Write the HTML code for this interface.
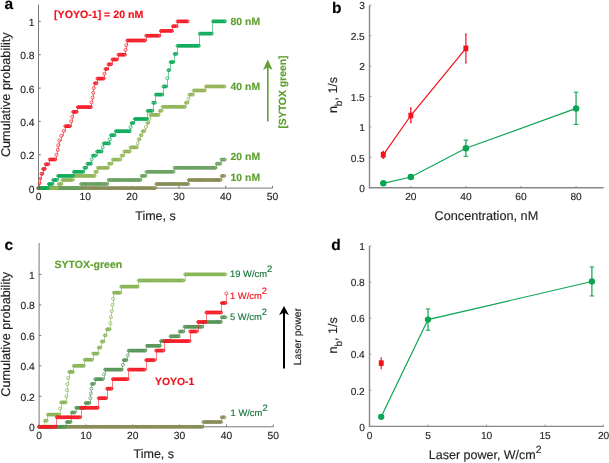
<!DOCTYPE html>
<html lang="en">
<head>
<meta charset="utf-8">
<title>Figure: cumulative probability and binding rates</title>
<style>
html,body{margin:0;padding:0;background:#fff;}
body{width:609px;height:463px;overflow:hidden;font-family:"Liberation Sans", Arial, Helvetica, sans-serif;}
svg{display:block;}
svg text{stroke-width:0.15px;paint-order:stroke fill;text-rendering:geometricPrecision;}
</style>
</head>
<body>
<svg width="609" height="463" viewBox="0 0 609 463" font-family='"Liberation Sans", Arial, Helvetica, sans-serif'>
<rect width="609" height="463" fill="#fff"/>
<g id="panel-a">
<line x1="38.05" y1="188.10" x2="272.50" y2="188.10" stroke="#6a6a6a" stroke-width="0.9"/>
<line x1="38.50" y1="188.10" x2="38.50" y2="4.60" stroke="#6a6a6a" stroke-width="0.9"/>
<line x1="38.50" y1="188.10" x2="38.50" y2="185.80" stroke="#6a6a6a" stroke-width="0.9"/>
<text x="38.5" y="200.1" font-size="10.3" text-anchor="middle" fill="#231f20" stroke="#231f20">0</text>
<line x1="85.30" y1="188.10" x2="85.30" y2="185.80" stroke="#6a6a6a" stroke-width="0.9"/>
<text x="85.3" y="200.1" font-size="10.3" text-anchor="middle" fill="#231f20" stroke="#231f20">10</text>
<line x1="132.10" y1="188.10" x2="132.10" y2="185.80" stroke="#6a6a6a" stroke-width="0.9"/>
<text x="132.1" y="200.1" font-size="10.3" text-anchor="middle" fill="#231f20" stroke="#231f20">20</text>
<line x1="178.90" y1="188.10" x2="178.90" y2="185.80" stroke="#6a6a6a" stroke-width="0.9"/>
<text x="178.9" y="200.1" font-size="10.3" text-anchor="middle" fill="#231f20" stroke="#231f20">30</text>
<line x1="225.70" y1="188.10" x2="225.70" y2="185.80" stroke="#6a6a6a" stroke-width="0.9"/>
<text x="225.7" y="200.1" font-size="10.3" text-anchor="middle" fill="#231f20" stroke="#231f20">40</text>
<line x1="272.50" y1="188.10" x2="272.50" y2="185.80" stroke="#6a6a6a" stroke-width="0.9"/>
<text x="272.5" y="200.1" font-size="10.3" text-anchor="middle" fill="#231f20" stroke="#231f20">50</text>
<line x1="38.50" y1="188.10" x2="40.80" y2="188.10" stroke="#6a6a6a" stroke-width="0.9"/>
<text x="34.5" y="192.6" font-size="10.3" text-anchor="end" fill="#231f20" stroke="#231f20">0</text>
<line x1="38.50" y1="154.76" x2="40.80" y2="154.76" stroke="#6a6a6a" stroke-width="0.9"/>
<text x="34.5" y="159.3" font-size="10.3" text-anchor="end" fill="#231f20" stroke="#231f20">0.2</text>
<line x1="38.50" y1="121.42" x2="40.80" y2="121.42" stroke="#6a6a6a" stroke-width="0.9"/>
<text x="34.5" y="125.9" font-size="10.3" text-anchor="end" fill="#231f20" stroke="#231f20">0.4</text>
<line x1="38.50" y1="88.08" x2="40.80" y2="88.08" stroke="#6a6a6a" stroke-width="0.9"/>
<text x="34.5" y="92.6" font-size="10.3" text-anchor="end" fill="#231f20" stroke="#231f20">0.6</text>
<line x1="38.50" y1="54.74" x2="40.80" y2="54.74" stroke="#6a6a6a" stroke-width="0.9"/>
<text x="34.5" y="59.2" font-size="10.3" text-anchor="end" fill="#231f20" stroke="#231f20">0.8</text>
<line x1="38.50" y1="21.40" x2="40.80" y2="21.40" stroke="#6a6a6a" stroke-width="0.9"/>
<text x="34.5" y="25.9" font-size="10.3" text-anchor="end" fill="#231f20" stroke="#231f20">1</text>
<g stroke="#82864f" fill="none">
<path d="M38.5 188.1H155.1H156.5V184.0H188.2H188.5V180.0H220.7H221.5V175.9H224.4" stroke-width="0.55"/>
<g stroke-width="0.85" fill="#fff" fill-opacity="0.1"><circle cx="38.5" cy="188.1" r="1.36"/><circle cx="39.4" cy="188.1" r="1.36"/><circle cx="40.4" cy="188.1" r="1.36"/><circle cx="41.3" cy="188.1" r="1.36"/><circle cx="42.3" cy="188.1" r="1.36"/><circle cx="43.2" cy="188.1" r="1.36"/><circle cx="44.1" cy="188.1" r="1.36"/><circle cx="45.1" cy="188.1" r="1.36"/><circle cx="46.0" cy="188.1" r="1.36"/><circle cx="47.0" cy="188.1" r="1.36"/><circle cx="47.9" cy="188.1" r="1.36"/><circle cx="48.8" cy="188.1" r="1.36"/><circle cx="49.8" cy="188.1" r="1.36"/><circle cx="50.7" cy="188.1" r="1.36"/><circle cx="51.7" cy="188.1" r="1.36"/><circle cx="52.6" cy="188.1" r="1.36"/><circle cx="53.5" cy="188.1" r="1.36"/><circle cx="54.5" cy="188.1" r="1.36"/><circle cx="55.4" cy="188.1" r="1.36"/><circle cx="56.4" cy="188.1" r="1.36"/><circle cx="57.3" cy="188.1" r="1.36"/><circle cx="58.2" cy="188.1" r="1.36"/><circle cx="59.2" cy="188.1" r="1.36"/><circle cx="60.1" cy="188.1" r="1.36"/><circle cx="61.1" cy="188.1" r="1.36"/><circle cx="62.0" cy="188.1" r="1.36"/><circle cx="62.9" cy="188.1" r="1.36"/><circle cx="63.9" cy="188.1" r="1.36"/><circle cx="64.8" cy="188.1" r="1.36"/><circle cx="65.8" cy="188.1" r="1.36"/><circle cx="66.7" cy="188.1" r="1.36"/><circle cx="67.6" cy="188.1" r="1.36"/><circle cx="68.6" cy="188.1" r="1.36"/><circle cx="69.5" cy="188.1" r="1.36"/><circle cx="70.5" cy="188.1" r="1.36"/><circle cx="71.4" cy="188.1" r="1.36"/><circle cx="72.3" cy="188.1" r="1.36"/><circle cx="73.3" cy="188.1" r="1.36"/><circle cx="74.2" cy="188.1" r="1.36"/><circle cx="75.2" cy="188.1" r="1.36"/><circle cx="76.1" cy="188.1" r="1.36"/><circle cx="77.0" cy="188.1" r="1.36"/><circle cx="78.0" cy="188.1" r="1.36"/><circle cx="78.9" cy="188.1" r="1.36"/><circle cx="79.9" cy="188.1" r="1.36"/><circle cx="80.8" cy="188.1" r="1.36"/><circle cx="81.7" cy="188.1" r="1.36"/><circle cx="82.7" cy="188.1" r="1.36"/><circle cx="83.6" cy="188.1" r="1.36"/><circle cx="84.6" cy="188.1" r="1.36"/><circle cx="85.5" cy="188.1" r="1.36"/><circle cx="86.4" cy="188.1" r="1.36"/><circle cx="87.4" cy="188.1" r="1.36"/><circle cx="88.3" cy="188.1" r="1.36"/><circle cx="89.3" cy="188.1" r="1.36"/><circle cx="90.2" cy="188.1" r="1.36"/><circle cx="91.1" cy="188.1" r="1.36"/><circle cx="92.1" cy="188.1" r="1.36"/><circle cx="93.0" cy="188.1" r="1.36"/><circle cx="94.0" cy="188.1" r="1.36"/><circle cx="94.9" cy="188.1" r="1.36"/><circle cx="95.8" cy="188.1" r="1.36"/><circle cx="96.8" cy="188.1" r="1.36"/><circle cx="97.7" cy="188.1" r="1.36"/><circle cx="98.7" cy="188.1" r="1.36"/><circle cx="99.6" cy="188.1" r="1.36"/><circle cx="100.5" cy="188.1" r="1.36"/><circle cx="101.5" cy="188.1" r="1.36"/><circle cx="102.4" cy="188.1" r="1.36"/><circle cx="103.4" cy="188.1" r="1.36"/><circle cx="104.3" cy="188.1" r="1.36"/><circle cx="105.2" cy="188.1" r="1.36"/><circle cx="106.2" cy="188.1" r="1.36"/><circle cx="107.1" cy="188.1" r="1.36"/><circle cx="108.1" cy="188.1" r="1.36"/><circle cx="109.0" cy="188.1" r="1.36"/><circle cx="109.9" cy="188.1" r="1.36"/><circle cx="110.9" cy="188.1" r="1.36"/><circle cx="111.8" cy="188.1" r="1.36"/><circle cx="112.8" cy="188.1" r="1.36"/><circle cx="113.7" cy="188.1" r="1.36"/><circle cx="114.6" cy="188.1" r="1.36"/><circle cx="115.6" cy="188.1" r="1.36"/><circle cx="116.5" cy="188.1" r="1.36"/><circle cx="117.5" cy="188.1" r="1.36"/><circle cx="118.4" cy="188.1" r="1.36"/><circle cx="119.3" cy="188.1" r="1.36"/><circle cx="120.3" cy="188.1" r="1.36"/><circle cx="121.2" cy="188.1" r="1.36"/><circle cx="122.2" cy="188.1" r="1.36"/><circle cx="123.1" cy="188.1" r="1.36"/><circle cx="124.0" cy="188.1" r="1.36"/><circle cx="125.0" cy="188.1" r="1.36"/><circle cx="125.9" cy="188.1" r="1.36"/><circle cx="126.9" cy="188.1" r="1.36"/><circle cx="127.8" cy="188.1" r="1.36"/><circle cx="128.7" cy="188.1" r="1.36"/><circle cx="129.7" cy="188.1" r="1.36"/><circle cx="130.6" cy="188.1" r="1.36"/><circle cx="131.6" cy="188.1" r="1.36"/><circle cx="132.5" cy="188.1" r="1.36"/><circle cx="133.4" cy="188.1" r="1.36"/><circle cx="134.4" cy="188.1" r="1.36"/><circle cx="135.3" cy="188.1" r="1.36"/><circle cx="136.3" cy="188.1" r="1.36"/><circle cx="137.2" cy="188.1" r="1.36"/><circle cx="138.1" cy="188.1" r="1.36"/><circle cx="139.1" cy="188.1" r="1.36"/><circle cx="140.0" cy="188.1" r="1.36"/><circle cx="141.0" cy="188.1" r="1.36"/><circle cx="141.9" cy="188.1" r="1.36"/><circle cx="142.8" cy="188.1" r="1.36"/><circle cx="143.8" cy="188.1" r="1.36"/><circle cx="144.7" cy="188.1" r="1.36"/><circle cx="145.7" cy="188.1" r="1.36"/><circle cx="146.6" cy="188.1" r="1.36"/><circle cx="147.5" cy="188.1" r="1.36"/><circle cx="148.5" cy="188.1" r="1.36"/><circle cx="149.4" cy="188.1" r="1.36"/><circle cx="150.4" cy="188.1" r="1.36"/><circle cx="151.3" cy="188.1" r="1.36"/><circle cx="152.2" cy="188.1" r="1.36"/><circle cx="153.2" cy="188.1" r="1.36"/><circle cx="154.1" cy="188.1" r="1.36"/><circle cx="155.1" cy="188.1" r="1.36"/><circle cx="156.2" cy="184.0" r="1.36"/><circle cx="157.1" cy="184.0" r="1.36"/><circle cx="158.1" cy="184.0" r="1.36"/><circle cx="159.0" cy="184.0" r="1.36"/><circle cx="160.0" cy="184.0" r="1.36"/><circle cx="160.9" cy="184.0" r="1.36"/><circle cx="161.8" cy="184.0" r="1.36"/><circle cx="162.8" cy="184.0" r="1.36"/><circle cx="163.7" cy="184.0" r="1.36"/><circle cx="164.7" cy="184.0" r="1.36"/><circle cx="165.6" cy="184.0" r="1.36"/><circle cx="166.5" cy="184.0" r="1.36"/><circle cx="167.5" cy="184.0" r="1.36"/><circle cx="168.4" cy="184.0" r="1.36"/><circle cx="169.4" cy="184.0" r="1.36"/><circle cx="170.3" cy="184.0" r="1.36"/><circle cx="171.2" cy="184.0" r="1.36"/><circle cx="172.2" cy="184.0" r="1.36"/><circle cx="173.1" cy="184.0" r="1.36"/><circle cx="174.1" cy="184.0" r="1.36"/><circle cx="175.0" cy="184.0" r="1.36"/><circle cx="175.9" cy="184.0" r="1.36"/><circle cx="176.9" cy="184.0" r="1.36"/><circle cx="177.8" cy="184.0" r="1.36"/><circle cx="178.8" cy="184.0" r="1.36"/><circle cx="179.7" cy="184.0" r="1.36"/><circle cx="180.6" cy="184.0" r="1.36"/><circle cx="181.6" cy="184.0" r="1.36"/><circle cx="182.5" cy="184.0" r="1.36"/><circle cx="183.5" cy="184.0" r="1.36"/><circle cx="184.4" cy="184.0" r="1.36"/><circle cx="185.3" cy="184.0" r="1.36"/><circle cx="186.3" cy="184.0" r="1.36"/><circle cx="187.2" cy="184.0" r="1.36"/><circle cx="188.2" cy="184.0" r="1.36"/><circle cx="188.7" cy="180.0" r="1.36"/><circle cx="189.6" cy="180.0" r="1.36"/><circle cx="190.6" cy="180.0" r="1.36"/><circle cx="191.5" cy="180.0" r="1.36"/><circle cx="192.5" cy="180.0" r="1.36"/><circle cx="193.4" cy="180.0" r="1.36"/><circle cx="194.3" cy="180.0" r="1.36"/><circle cx="195.3" cy="180.0" r="1.36"/><circle cx="196.2" cy="180.0" r="1.36"/><circle cx="197.2" cy="180.0" r="1.36"/><circle cx="198.1" cy="180.0" r="1.36"/><circle cx="199.0" cy="180.0" r="1.36"/><circle cx="200.0" cy="180.0" r="1.36"/><circle cx="200.9" cy="180.0" r="1.36"/><circle cx="201.9" cy="180.0" r="1.36"/><circle cx="202.8" cy="180.0" r="1.36"/><circle cx="203.7" cy="180.0" r="1.36"/><circle cx="204.7" cy="180.0" r="1.36"/><circle cx="205.6" cy="180.0" r="1.36"/><circle cx="206.6" cy="180.0" r="1.36"/><circle cx="207.5" cy="180.0" r="1.36"/><circle cx="208.4" cy="180.0" r="1.36"/><circle cx="209.4" cy="180.0" r="1.36"/><circle cx="210.3" cy="180.0" r="1.36"/><circle cx="211.3" cy="180.0" r="1.36"/><circle cx="212.2" cy="180.0" r="1.36"/><circle cx="213.1" cy="180.0" r="1.36"/><circle cx="214.1" cy="180.0" r="1.36"/><circle cx="215.0" cy="180.0" r="1.36"/><circle cx="216.0" cy="180.0" r="1.36"/><circle cx="216.9" cy="180.0" r="1.36"/><circle cx="217.8" cy="180.0" r="1.36"/><circle cx="218.8" cy="180.0" r="1.36"/><circle cx="219.7" cy="180.0" r="1.36"/><circle cx="220.7" cy="180.0" r="1.36"/><circle cx="221.6" cy="175.9" r="1.36"/><circle cx="222.5" cy="175.9" r="1.36"/><circle cx="223.5" cy="175.9" r="1.36"/><circle cx="224.4" cy="175.9" r="1.36"/></g>
</g>
<g stroke="#639c58" fill="none">
<path d="M38.5 188.1H79.9H81.5V184.0H107.3H108.5V180.0H140.5H141.5V175.9H145.5H146.5V171.8H173.6H174.5V167.8H215.8H216.5V163.7H220.4H221.5V159.6H225.1" stroke-width="0.55"/>
<g stroke-width="0.85" fill="#fff" fill-opacity="0.1"><circle cx="38.5" cy="188.1" r="1.36"/><circle cx="39.4" cy="188.1" r="1.36"/><circle cx="40.4" cy="188.1" r="1.36"/><circle cx="41.3" cy="188.1" r="1.36"/><circle cx="42.3" cy="188.1" r="1.36"/><circle cx="43.2" cy="188.1" r="1.36"/><circle cx="44.1" cy="188.1" r="1.36"/><circle cx="45.1" cy="188.1" r="1.36"/><circle cx="46.0" cy="188.1" r="1.36"/><circle cx="47.0" cy="188.1" r="1.36"/><circle cx="47.9" cy="188.1" r="1.36"/><circle cx="48.8" cy="188.1" r="1.36"/><circle cx="49.8" cy="188.1" r="1.36"/><circle cx="50.7" cy="188.1" r="1.36"/><circle cx="51.7" cy="188.1" r="1.36"/><circle cx="52.6" cy="188.1" r="1.36"/><circle cx="53.5" cy="188.1" r="1.36"/><circle cx="54.5" cy="188.1" r="1.36"/><circle cx="55.4" cy="188.1" r="1.36"/><circle cx="56.4" cy="188.1" r="1.36"/><circle cx="57.3" cy="188.1" r="1.36"/><circle cx="58.2" cy="188.1" r="1.36"/><circle cx="59.2" cy="188.1" r="1.36"/><circle cx="60.1" cy="188.1" r="1.36"/><circle cx="61.1" cy="188.1" r="1.36"/><circle cx="62.0" cy="188.1" r="1.36"/><circle cx="62.9" cy="188.1" r="1.36"/><circle cx="63.9" cy="188.1" r="1.36"/><circle cx="64.8" cy="188.1" r="1.36"/><circle cx="65.8" cy="188.1" r="1.36"/><circle cx="66.7" cy="188.1" r="1.36"/><circle cx="67.6" cy="188.1" r="1.36"/><circle cx="68.6" cy="188.1" r="1.36"/><circle cx="69.5" cy="188.1" r="1.36"/><circle cx="70.5" cy="188.1" r="1.36"/><circle cx="71.4" cy="188.1" r="1.36"/><circle cx="72.3" cy="188.1" r="1.36"/><circle cx="73.3" cy="188.1" r="1.36"/><circle cx="74.2" cy="188.1" r="1.36"/><circle cx="75.2" cy="188.1" r="1.36"/><circle cx="76.1" cy="188.1" r="1.36"/><circle cx="77.0" cy="188.1" r="1.36"/><circle cx="78.0" cy="188.1" r="1.36"/><circle cx="78.9" cy="188.1" r="1.36"/><circle cx="79.9" cy="188.1" r="1.36"/><circle cx="81.0" cy="184.0" r="1.36"/><circle cx="81.9" cy="184.0" r="1.36"/><circle cx="82.9" cy="184.0" r="1.36"/><circle cx="83.8" cy="184.0" r="1.36"/><circle cx="84.8" cy="184.0" r="1.36"/><circle cx="85.7" cy="184.0" r="1.36"/><circle cx="86.6" cy="184.0" r="1.36"/><circle cx="87.6" cy="184.0" r="1.36"/><circle cx="88.5" cy="184.0" r="1.36"/><circle cx="89.5" cy="184.0" r="1.36"/><circle cx="90.4" cy="184.0" r="1.36"/><circle cx="91.3" cy="184.0" r="1.36"/><circle cx="92.3" cy="184.0" r="1.36"/><circle cx="93.2" cy="184.0" r="1.36"/><circle cx="94.2" cy="184.0" r="1.36"/><circle cx="95.1" cy="184.0" r="1.36"/><circle cx="96.0" cy="184.0" r="1.36"/><circle cx="97.0" cy="184.0" r="1.36"/><circle cx="97.9" cy="184.0" r="1.36"/><circle cx="98.9" cy="184.0" r="1.36"/><circle cx="99.8" cy="184.0" r="1.36"/><circle cx="100.7" cy="184.0" r="1.36"/><circle cx="101.7" cy="184.0" r="1.36"/><circle cx="102.6" cy="184.0" r="1.36"/><circle cx="103.6" cy="184.0" r="1.36"/><circle cx="104.5" cy="184.0" r="1.36"/><circle cx="105.4" cy="184.0" r="1.36"/><circle cx="106.4" cy="184.0" r="1.36"/><circle cx="107.3" cy="184.0" r="1.36"/><circle cx="108.5" cy="180.0" r="1.36"/><circle cx="109.4" cy="180.0" r="1.36"/><circle cx="110.4" cy="180.0" r="1.36"/><circle cx="111.3" cy="180.0" r="1.36"/><circle cx="112.3" cy="180.0" r="1.36"/><circle cx="113.2" cy="180.0" r="1.36"/><circle cx="114.1" cy="180.0" r="1.36"/><circle cx="115.1" cy="180.0" r="1.36"/><circle cx="116.0" cy="180.0" r="1.36"/><circle cx="117.0" cy="180.0" r="1.36"/><circle cx="117.9" cy="180.0" r="1.36"/><circle cx="118.8" cy="180.0" r="1.36"/><circle cx="119.8" cy="180.0" r="1.36"/><circle cx="120.7" cy="180.0" r="1.36"/><circle cx="121.7" cy="180.0" r="1.36"/><circle cx="122.6" cy="180.0" r="1.36"/><circle cx="123.5" cy="180.0" r="1.36"/><circle cx="124.5" cy="180.0" r="1.36"/><circle cx="125.4" cy="180.0" r="1.36"/><circle cx="126.4" cy="180.0" r="1.36"/><circle cx="127.3" cy="180.0" r="1.36"/><circle cx="128.2" cy="180.0" r="1.36"/><circle cx="129.2" cy="180.0" r="1.36"/><circle cx="130.1" cy="180.0" r="1.36"/><circle cx="131.1" cy="180.0" r="1.36"/><circle cx="132.0" cy="180.0" r="1.36"/><circle cx="132.9" cy="180.0" r="1.36"/><circle cx="133.9" cy="180.0" r="1.36"/><circle cx="134.8" cy="180.0" r="1.36"/><circle cx="135.8" cy="180.0" r="1.36"/><circle cx="136.7" cy="180.0" r="1.36"/><circle cx="137.6" cy="180.0" r="1.36"/><circle cx="138.6" cy="180.0" r="1.36"/><circle cx="139.5" cy="180.0" r="1.36"/><circle cx="140.5" cy="180.0" r="1.36"/><circle cx="141.7" cy="175.9" r="1.36"/><circle cx="142.6" cy="175.9" r="1.36"/><circle cx="143.6" cy="175.9" r="1.36"/><circle cx="144.5" cy="175.9" r="1.36"/><circle cx="145.5" cy="175.9" r="1.36"/><circle cx="146.3" cy="171.8" r="1.36"/><circle cx="147.2" cy="171.8" r="1.36"/><circle cx="148.2" cy="171.8" r="1.36"/><circle cx="149.1" cy="171.8" r="1.36"/><circle cx="150.1" cy="171.8" r="1.36"/><circle cx="151.0" cy="171.8" r="1.36"/><circle cx="151.9" cy="171.8" r="1.36"/><circle cx="152.9" cy="171.8" r="1.36"/><circle cx="153.8" cy="171.8" r="1.36"/><circle cx="154.8" cy="171.8" r="1.36"/><circle cx="155.7" cy="171.8" r="1.36"/><circle cx="156.6" cy="171.8" r="1.36"/><circle cx="157.6" cy="171.8" r="1.36"/><circle cx="158.5" cy="171.8" r="1.36"/><circle cx="159.5" cy="171.8" r="1.36"/><circle cx="160.4" cy="171.8" r="1.36"/><circle cx="161.3" cy="171.8" r="1.36"/><circle cx="162.3" cy="171.8" r="1.36"/><circle cx="163.2" cy="171.8" r="1.36"/><circle cx="164.2" cy="171.8" r="1.36"/><circle cx="165.1" cy="171.8" r="1.36"/><circle cx="166.0" cy="171.8" r="1.36"/><circle cx="167.0" cy="171.8" r="1.36"/><circle cx="167.9" cy="171.8" r="1.36"/><circle cx="168.9" cy="171.8" r="1.36"/><circle cx="169.8" cy="171.8" r="1.36"/><circle cx="170.7" cy="171.8" r="1.36"/><circle cx="171.7" cy="171.8" r="1.36"/><circle cx="172.6" cy="171.8" r="1.36"/><circle cx="173.6" cy="171.8" r="1.36"/><circle cx="174.4" cy="167.8" r="1.36"/><circle cx="175.3" cy="167.8" r="1.36"/><circle cx="176.3" cy="167.8" r="1.36"/><circle cx="177.2" cy="167.8" r="1.36"/><circle cx="178.2" cy="167.8" r="1.36"/><circle cx="179.1" cy="167.8" r="1.36"/><circle cx="180.0" cy="167.8" r="1.36"/><circle cx="181.0" cy="167.8" r="1.36"/><circle cx="181.9" cy="167.8" r="1.36"/><circle cx="182.9" cy="167.8" r="1.36"/><circle cx="183.8" cy="167.8" r="1.36"/><circle cx="184.7" cy="167.8" r="1.36"/><circle cx="185.7" cy="167.8" r="1.36"/><circle cx="186.6" cy="167.8" r="1.36"/><circle cx="187.6" cy="167.8" r="1.36"/><circle cx="188.5" cy="167.8" r="1.36"/><circle cx="189.4" cy="167.8" r="1.36"/><circle cx="190.4" cy="167.8" r="1.36"/><circle cx="191.3" cy="167.8" r="1.36"/><circle cx="192.3" cy="167.8" r="1.36"/><circle cx="193.2" cy="167.8" r="1.36"/><circle cx="194.1" cy="167.8" r="1.36"/><circle cx="195.1" cy="167.8" r="1.36"/><circle cx="196.0" cy="167.8" r="1.36"/><circle cx="197.0" cy="167.8" r="1.36"/><circle cx="197.9" cy="167.8" r="1.36"/><circle cx="198.8" cy="167.8" r="1.36"/><circle cx="199.8" cy="167.8" r="1.36"/><circle cx="200.7" cy="167.8" r="1.36"/><circle cx="201.7" cy="167.8" r="1.36"/><circle cx="202.6" cy="167.8" r="1.36"/><circle cx="203.5" cy="167.8" r="1.36"/><circle cx="204.5" cy="167.8" r="1.36"/><circle cx="205.4" cy="167.8" r="1.36"/><circle cx="206.4" cy="167.8" r="1.36"/><circle cx="207.3" cy="167.8" r="1.36"/><circle cx="208.2" cy="167.8" r="1.36"/><circle cx="209.2" cy="167.8" r="1.36"/><circle cx="210.1" cy="167.8" r="1.36"/><circle cx="211.1" cy="167.8" r="1.36"/><circle cx="212.0" cy="167.8" r="1.36"/><circle cx="212.9" cy="167.8" r="1.36"/><circle cx="213.9" cy="167.8" r="1.36"/><circle cx="214.8" cy="167.8" r="1.36"/><circle cx="215.8" cy="167.8" r="1.36"/><circle cx="216.6" cy="163.7" r="1.36"/><circle cx="217.5" cy="163.7" r="1.36"/><circle cx="218.5" cy="163.7" r="1.36"/><circle cx="219.4" cy="163.7" r="1.36"/><circle cx="220.4" cy="163.7" r="1.36"/><circle cx="221.3" cy="159.6" r="1.36"/><circle cx="222.2" cy="159.6" r="1.36"/><circle cx="223.2" cy="159.6" r="1.36"/><circle cx="224.1" cy="159.6" r="1.36"/><circle cx="225.1" cy="159.6" r="1.36"/></g>
</g>
<g stroke="#8cb04e" fill="none">
<path d="M38.5 188.1H57.3H58.5V184.0H61.5H62.5V180.0H72.6H74.5V175.9H94.7H95.5V171.8H97.1H97.5V167.8H108.1H108.5V163.7H111.7H112.5V159.6H120.3H121.5V155.6H123.3H124.5V151.5H129.8H130.5V147.4H137.1H137.5V143.4H137.8H138.5V139.3H139.6H140.5V135.2H141.7H142.5V131.2H144.5H145.5V127.1H145.8H147.5V123.0H148.2H149.5V119.0H149.4H150.5V114.9H158.8H159.5V110.8H161.7H162.5V106.8H185.1H185.5V102.7H187.7H188.5V98.7H188.4H189.5V94.6H193.1H193.5V90.5H205.0H205.5V86.5H224.7" stroke-width="0.55"/>
<g stroke-width="0.85" fill="#fff" fill-opacity="0.1"><circle cx="38.5" cy="188.1" r="1.36"/><circle cx="39.4" cy="188.1" r="1.36"/><circle cx="40.4" cy="188.1" r="1.36"/><circle cx="41.3" cy="188.1" r="1.36"/><circle cx="42.3" cy="188.1" r="1.36"/><circle cx="43.2" cy="188.1" r="1.36"/><circle cx="44.1" cy="188.1" r="1.36"/><circle cx="45.1" cy="188.1" r="1.36"/><circle cx="46.0" cy="188.1" r="1.36"/><circle cx="47.0" cy="188.1" r="1.36"/><circle cx="47.9" cy="188.1" r="1.36"/><circle cx="48.8" cy="188.1" r="1.36"/><circle cx="49.8" cy="188.1" r="1.36"/><circle cx="50.7" cy="188.1" r="1.36"/><circle cx="51.7" cy="188.1" r="1.36"/><circle cx="52.6" cy="188.1" r="1.36"/><circle cx="53.5" cy="188.1" r="1.36"/><circle cx="54.5" cy="188.1" r="1.36"/><circle cx="55.4" cy="188.1" r="1.36"/><circle cx="56.4" cy="188.1" r="1.36"/><circle cx="57.3" cy="188.1" r="1.36"/><circle cx="58.7" cy="184.0" r="1.36"/><circle cx="59.6" cy="184.0" r="1.36"/><circle cx="60.6" cy="184.0" r="1.36"/><circle cx="61.5" cy="184.0" r="1.36"/><circle cx="62.3" cy="180.0" r="1.36"/><circle cx="63.2" cy="180.0" r="1.36"/><circle cx="64.2" cy="180.0" r="1.36"/><circle cx="65.1" cy="180.0" r="1.36"/><circle cx="66.1" cy="180.0" r="1.36"/><circle cx="67.0" cy="180.0" r="1.36"/><circle cx="67.9" cy="180.0" r="1.36"/><circle cx="68.9" cy="180.0" r="1.36"/><circle cx="69.8" cy="180.0" r="1.36"/><circle cx="70.8" cy="180.0" r="1.36"/><circle cx="71.7" cy="180.0" r="1.36"/><circle cx="72.6" cy="180.0" r="1.36"/><circle cx="74.0" cy="175.9" r="1.36"/><circle cx="74.9" cy="175.9" r="1.36"/><circle cx="75.9" cy="175.9" r="1.36"/><circle cx="76.8" cy="175.9" r="1.36"/><circle cx="77.8" cy="175.9" r="1.36"/><circle cx="78.7" cy="175.9" r="1.36"/><circle cx="79.6" cy="175.9" r="1.36"/><circle cx="80.6" cy="175.9" r="1.36"/><circle cx="81.5" cy="175.9" r="1.36"/><circle cx="82.5" cy="175.9" r="1.36"/><circle cx="83.4" cy="175.9" r="1.36"/><circle cx="84.3" cy="175.9" r="1.36"/><circle cx="85.3" cy="175.9" r="1.36"/><circle cx="86.2" cy="175.9" r="1.36"/><circle cx="87.2" cy="175.9" r="1.36"/><circle cx="88.1" cy="175.9" r="1.36"/><circle cx="89.0" cy="175.9" r="1.36"/><circle cx="90.0" cy="175.9" r="1.36"/><circle cx="90.9" cy="175.9" r="1.36"/><circle cx="91.9" cy="175.9" r="1.36"/><circle cx="92.8" cy="175.9" r="1.36"/><circle cx="93.7" cy="175.9" r="1.36"/><circle cx="94.7" cy="175.9" r="1.36"/><circle cx="95.2" cy="171.8" r="1.36"/><circle cx="96.1" cy="171.8" r="1.36"/><circle cx="97.1" cy="171.8" r="1.36"/><circle cx="97.8" cy="167.8" r="1.36"/><circle cx="98.7" cy="167.8" r="1.36"/><circle cx="99.7" cy="167.8" r="1.36"/><circle cx="100.6" cy="167.8" r="1.36"/><circle cx="101.6" cy="167.8" r="1.36"/><circle cx="102.5" cy="167.8" r="1.36"/><circle cx="103.4" cy="167.8" r="1.36"/><circle cx="104.4" cy="167.8" r="1.36"/><circle cx="105.3" cy="167.8" r="1.36"/><circle cx="106.3" cy="167.8" r="1.36"/><circle cx="107.2" cy="167.8" r="1.36"/><circle cx="108.1" cy="167.8" r="1.36"/><circle cx="108.9" cy="163.7" r="1.36"/><circle cx="109.8" cy="163.7" r="1.36"/><circle cx="110.8" cy="163.7" r="1.36"/><circle cx="111.7" cy="163.7" r="1.36"/><circle cx="112.8" cy="159.6" r="1.36"/><circle cx="113.7" cy="159.6" r="1.36"/><circle cx="114.7" cy="159.6" r="1.36"/><circle cx="115.6" cy="159.6" r="1.36"/><circle cx="116.6" cy="159.6" r="1.36"/><circle cx="117.5" cy="159.6" r="1.36"/><circle cx="118.4" cy="159.6" r="1.36"/><circle cx="119.4" cy="159.6" r="1.36"/><circle cx="120.3" cy="159.6" r="1.36"/><circle cx="121.4" cy="155.6" r="1.36"/><circle cx="122.3" cy="155.6" r="1.36"/><circle cx="123.3" cy="155.6" r="1.36"/><circle cx="124.2" cy="151.5" r="1.36"/><circle cx="125.1" cy="151.5" r="1.36"/><circle cx="126.1" cy="151.5" r="1.36"/><circle cx="127.0" cy="151.5" r="1.36"/><circle cx="128.0" cy="151.5" r="1.36"/><circle cx="128.9" cy="151.5" r="1.36"/><circle cx="129.8" cy="151.5" r="1.36"/><circle cx="130.5" cy="147.4" r="1.36"/><circle cx="131.4" cy="147.4" r="1.36"/><circle cx="132.4" cy="147.4" r="1.36"/><circle cx="133.3" cy="147.4" r="1.36"/><circle cx="134.3" cy="147.4" r="1.36"/><circle cx="135.2" cy="147.4" r="1.36"/><circle cx="136.1" cy="147.4" r="1.36"/><circle cx="137.1" cy="147.4" r="1.36"/><circle cx="138.7" cy="139.3" r="1.36"/><circle cx="139.6" cy="139.3" r="1.36"/><circle cx="140.8" cy="135.2" r="1.36"/><circle cx="141.7" cy="135.2" r="1.36"/><circle cx="142.6" cy="131.2" r="1.36"/><circle cx="143.5" cy="131.2" r="1.36"/><circle cx="144.5" cy="131.2" r="1.36"/><circle cx="147.3" cy="123.0" r="1.36"/><circle cx="148.2" cy="123.0" r="1.36"/><circle cx="150.3" cy="114.9" r="1.36"/><circle cx="151.2" cy="114.9" r="1.36"/><circle cx="152.2" cy="114.9" r="1.36"/><circle cx="153.1" cy="114.9" r="1.36"/><circle cx="154.1" cy="114.9" r="1.36"/><circle cx="155.0" cy="114.9" r="1.36"/><circle cx="155.9" cy="114.9" r="1.36"/><circle cx="156.9" cy="114.9" r="1.36"/><circle cx="157.8" cy="114.9" r="1.36"/><circle cx="158.8" cy="114.9" r="1.36"/><circle cx="159.8" cy="110.8" r="1.36"/><circle cx="160.7" cy="110.8" r="1.36"/><circle cx="161.7" cy="110.8" r="1.36"/><circle cx="162.5" cy="106.8" r="1.36"/><circle cx="163.4" cy="106.8" r="1.36"/><circle cx="164.4" cy="106.8" r="1.36"/><circle cx="165.3" cy="106.8" r="1.36"/><circle cx="166.3" cy="106.8" r="1.36"/><circle cx="167.2" cy="106.8" r="1.36"/><circle cx="168.1" cy="106.8" r="1.36"/><circle cx="169.1" cy="106.8" r="1.36"/><circle cx="170.0" cy="106.8" r="1.36"/><circle cx="171.0" cy="106.8" r="1.36"/><circle cx="171.9" cy="106.8" r="1.36"/><circle cx="172.8" cy="106.8" r="1.36"/><circle cx="173.8" cy="106.8" r="1.36"/><circle cx="174.7" cy="106.8" r="1.36"/><circle cx="175.7" cy="106.8" r="1.36"/><circle cx="176.6" cy="106.8" r="1.36"/><circle cx="177.5" cy="106.8" r="1.36"/><circle cx="178.5" cy="106.8" r="1.36"/><circle cx="179.4" cy="106.8" r="1.36"/><circle cx="180.4" cy="106.8" r="1.36"/><circle cx="181.3" cy="106.8" r="1.36"/><circle cx="182.2" cy="106.8" r="1.36"/><circle cx="183.2" cy="106.8" r="1.36"/><circle cx="184.1" cy="106.8" r="1.36"/><circle cx="185.1" cy="106.8" r="1.36"/><circle cx="185.8" cy="102.7" r="1.36"/><circle cx="186.7" cy="102.7" r="1.36"/><circle cx="187.7" cy="102.7" r="1.36"/><circle cx="189.3" cy="94.6" r="1.36"/><circle cx="190.2" cy="94.6" r="1.36"/><circle cx="191.2" cy="94.6" r="1.36"/><circle cx="192.1" cy="94.6" r="1.36"/><circle cx="193.1" cy="94.6" r="1.36"/><circle cx="193.7" cy="90.5" r="1.36"/><circle cx="194.6" cy="90.5" r="1.36"/><circle cx="195.6" cy="90.5" r="1.36"/><circle cx="196.5" cy="90.5" r="1.36"/><circle cx="197.5" cy="90.5" r="1.36"/><circle cx="198.4" cy="90.5" r="1.36"/><circle cx="199.3" cy="90.5" r="1.36"/><circle cx="200.3" cy="90.5" r="1.36"/><circle cx="201.2" cy="90.5" r="1.36"/><circle cx="202.2" cy="90.5" r="1.36"/><circle cx="203.1" cy="90.5" r="1.36"/><circle cx="204.0" cy="90.5" r="1.36"/><circle cx="205.0" cy="90.5" r="1.36"/><circle cx="205.9" cy="86.5" r="1.36"/><circle cx="206.8" cy="86.5" r="1.36"/><circle cx="207.8" cy="86.5" r="1.36"/><circle cx="208.7" cy="86.5" r="1.36"/><circle cx="209.7" cy="86.5" r="1.36"/><circle cx="210.6" cy="86.5" r="1.36"/><circle cx="211.5" cy="86.5" r="1.36"/><circle cx="212.5" cy="86.5" r="1.36"/><circle cx="213.4" cy="86.5" r="1.36"/><circle cx="214.4" cy="86.5" r="1.36"/><circle cx="215.3" cy="86.5" r="1.36"/><circle cx="216.2" cy="86.5" r="1.36"/><circle cx="217.2" cy="86.5" r="1.36"/><circle cx="218.1" cy="86.5" r="1.36"/><circle cx="219.1" cy="86.5" r="1.36"/><circle cx="220.0" cy="86.5" r="1.36"/><circle cx="220.9" cy="86.5" r="1.36"/><circle cx="221.9" cy="86.5" r="1.36"/><circle cx="222.8" cy="86.5" r="1.36"/><circle cx="223.8" cy="86.5" r="1.36"/><circle cx="224.7" cy="86.5" r="1.36"/></g>
<g stroke-width="0.78" fill="#fff" fill-opacity="0.6" stroke-opacity="0.85"><circle cx="137.8" cy="143.4" r="1.55"/><circle cx="145.8" cy="127.1" r="1.55"/><circle cx="149.4" cy="119.0" r="1.55"/><circle cx="188.4" cy="98.7" r="1.55"/></g>
</g>
<g stroke="#00a651" fill="none">
<path d="M38.5 188.1H47.9H48.5V184.0H52.6H53.5V180.0H56.9H58.5V175.9H73.0H73.5V171.8H83.2H84.5V167.8H86.2H87.5V163.7H91.1H91.5V159.6H91.8H92.5V155.6H95.6H97.5V151.5H101.7H102.5V147.4H102.7H103.5V143.4H109.3H109.5V139.3H109.9H110.5V135.2H114.7H115.5V131.2H129.9H130.5V127.1H130.6H131.5V123.0H133.4H134.5V119.0H147.0H147.5V110.8H152.3H153.5V102.7H155.0H155.5V94.6H162.4H163.5V86.5H166.2H167.5V78.3H167.3H168.5V70.2H169.2H170.5V62.1H173.3H174.5V53.9H176.5H177.5V45.8H199.0H199.5V33.6H211.9H212.5V21.4H225.1" stroke-width="0.55"/>
<g stroke-width="0.85" fill="#fff" fill-opacity="0.1"><circle cx="38.5" cy="188.1" r="1.36"/><circle cx="39.4" cy="188.1" r="1.36"/><circle cx="40.4" cy="188.1" r="1.36"/><circle cx="41.3" cy="188.1" r="1.36"/><circle cx="42.3" cy="188.1" r="1.36"/><circle cx="43.2" cy="188.1" r="1.36"/><circle cx="44.1" cy="188.1" r="1.36"/><circle cx="45.1" cy="188.1" r="1.36"/><circle cx="46.0" cy="188.1" r="1.36"/><circle cx="47.0" cy="188.1" r="1.36"/><circle cx="47.9" cy="188.1" r="1.36"/><circle cx="48.8" cy="184.0" r="1.36"/><circle cx="49.7" cy="184.0" r="1.36"/><circle cx="50.7" cy="184.0" r="1.36"/><circle cx="51.6" cy="184.0" r="1.36"/><circle cx="52.6" cy="184.0" r="1.36"/><circle cx="53.1" cy="180.0" r="1.36"/><circle cx="54.0" cy="180.0" r="1.36"/><circle cx="55.0" cy="180.0" r="1.36"/><circle cx="55.9" cy="180.0" r="1.36"/><circle cx="56.9" cy="180.0" r="1.36"/><circle cx="58.0" cy="175.9" r="1.36"/><circle cx="58.9" cy="175.9" r="1.36"/><circle cx="59.9" cy="175.9" r="1.36"/><circle cx="60.8" cy="175.9" r="1.36"/><circle cx="61.8" cy="175.9" r="1.36"/><circle cx="62.7" cy="175.9" r="1.36"/><circle cx="63.6" cy="175.9" r="1.36"/><circle cx="64.6" cy="175.9" r="1.36"/><circle cx="65.5" cy="175.9" r="1.36"/><circle cx="66.5" cy="175.9" r="1.36"/><circle cx="67.4" cy="175.9" r="1.36"/><circle cx="68.3" cy="175.9" r="1.36"/><circle cx="69.3" cy="175.9" r="1.36"/><circle cx="70.2" cy="175.9" r="1.36"/><circle cx="71.2" cy="175.9" r="1.36"/><circle cx="72.1" cy="175.9" r="1.36"/><circle cx="73.0" cy="175.9" r="1.36"/><circle cx="73.8" cy="171.8" r="1.36"/><circle cx="74.7" cy="171.8" r="1.36"/><circle cx="75.7" cy="171.8" r="1.36"/><circle cx="76.6" cy="171.8" r="1.36"/><circle cx="77.6" cy="171.8" r="1.36"/><circle cx="78.5" cy="171.8" r="1.36"/><circle cx="79.4" cy="171.8" r="1.36"/><circle cx="80.4" cy="171.8" r="1.36"/><circle cx="81.3" cy="171.8" r="1.36"/><circle cx="82.3" cy="171.8" r="1.36"/><circle cx="83.2" cy="171.8" r="1.36"/><circle cx="84.3" cy="167.8" r="1.36"/><circle cx="85.2" cy="167.8" r="1.36"/><circle cx="86.2" cy="167.8" r="1.36"/><circle cx="87.3" cy="163.7" r="1.36"/><circle cx="88.2" cy="163.7" r="1.36"/><circle cx="89.2" cy="163.7" r="1.36"/><circle cx="90.1" cy="163.7" r="1.36"/><circle cx="91.1" cy="163.7" r="1.36"/><circle cx="92.8" cy="155.6" r="1.36"/><circle cx="93.7" cy="155.6" r="1.36"/><circle cx="94.7" cy="155.6" r="1.36"/><circle cx="95.6" cy="155.6" r="1.36"/><circle cx="97.0" cy="151.5" r="1.36"/><circle cx="97.9" cy="151.5" r="1.36"/><circle cx="98.9" cy="151.5" r="1.36"/><circle cx="99.8" cy="151.5" r="1.36"/><circle cx="100.8" cy="151.5" r="1.36"/><circle cx="101.7" cy="151.5" r="1.36"/><circle cx="103.7" cy="143.4" r="1.36"/><circle cx="104.6" cy="143.4" r="1.36"/><circle cx="105.6" cy="143.4" r="1.36"/><circle cx="106.5" cy="143.4" r="1.36"/><circle cx="107.5" cy="143.4" r="1.36"/><circle cx="108.4" cy="143.4" r="1.36"/><circle cx="109.3" cy="143.4" r="1.36"/><circle cx="110.9" cy="135.2" r="1.36"/><circle cx="111.8" cy="135.2" r="1.36"/><circle cx="112.8" cy="135.2" r="1.36"/><circle cx="113.7" cy="135.2" r="1.36"/><circle cx="114.7" cy="135.2" r="1.36"/><circle cx="115.8" cy="131.2" r="1.36"/><circle cx="116.7" cy="131.2" r="1.36"/><circle cx="117.7" cy="131.2" r="1.36"/><circle cx="118.6" cy="131.2" r="1.36"/><circle cx="119.6" cy="131.2" r="1.36"/><circle cx="120.5" cy="131.2" r="1.36"/><circle cx="121.4" cy="131.2" r="1.36"/><circle cx="122.4" cy="131.2" r="1.36"/><circle cx="123.3" cy="131.2" r="1.36"/><circle cx="124.3" cy="131.2" r="1.36"/><circle cx="125.2" cy="131.2" r="1.36"/><circle cx="126.1" cy="131.2" r="1.36"/><circle cx="127.1" cy="131.2" r="1.36"/><circle cx="128.0" cy="131.2" r="1.36"/><circle cx="129.0" cy="131.2" r="1.36"/><circle cx="129.9" cy="131.2" r="1.36"/><circle cx="131.5" cy="123.0" r="1.36"/><circle cx="132.4" cy="123.0" r="1.36"/><circle cx="133.4" cy="123.0" r="1.36"/><circle cx="134.8" cy="119.0" r="1.36"/><circle cx="135.7" cy="119.0" r="1.36"/><circle cx="136.7" cy="119.0" r="1.36"/><circle cx="137.6" cy="119.0" r="1.36"/><circle cx="138.6" cy="119.0" r="1.36"/><circle cx="139.5" cy="119.0" r="1.36"/><circle cx="140.4" cy="119.0" r="1.36"/><circle cx="141.4" cy="119.0" r="1.36"/><circle cx="142.3" cy="119.0" r="1.36"/><circle cx="143.3" cy="119.0" r="1.36"/><circle cx="144.2" cy="119.0" r="1.36"/><circle cx="145.1" cy="119.0" r="1.36"/><circle cx="146.1" cy="119.0" r="1.36"/><circle cx="147.0" cy="119.0" r="1.36"/><circle cx="147.6" cy="110.8" r="1.36"/><circle cx="148.5" cy="110.8" r="1.36"/><circle cx="149.5" cy="110.8" r="1.36"/><circle cx="150.4" cy="110.8" r="1.36"/><circle cx="151.4" cy="110.8" r="1.36"/><circle cx="152.3" cy="110.8" r="1.36"/><circle cx="153.1" cy="102.7" r="1.36"/><circle cx="154.0" cy="102.7" r="1.36"/><circle cx="155.0" cy="102.7" r="1.36"/><circle cx="155.8" cy="94.6" r="1.36"/><circle cx="156.7" cy="94.6" r="1.36"/><circle cx="157.7" cy="94.6" r="1.36"/><circle cx="158.6" cy="94.6" r="1.36"/><circle cx="159.6" cy="94.6" r="1.36"/><circle cx="160.5" cy="94.6" r="1.36"/><circle cx="161.4" cy="94.6" r="1.36"/><circle cx="162.4" cy="94.6" r="1.36"/><circle cx="163.4" cy="86.5" r="1.36"/><circle cx="164.3" cy="86.5" r="1.36"/><circle cx="165.3" cy="86.5" r="1.36"/><circle cx="166.2" cy="86.5" r="1.36"/><circle cx="168.3" cy="70.2" r="1.36"/><circle cx="169.2" cy="70.2" r="1.36"/><circle cx="170.5" cy="62.1" r="1.36"/><circle cx="171.4" cy="62.1" r="1.36"/><circle cx="172.4" cy="62.1" r="1.36"/><circle cx="173.3" cy="62.1" r="1.36"/><circle cx="174.6" cy="53.9" r="1.36"/><circle cx="175.5" cy="53.9" r="1.36"/><circle cx="176.5" cy="53.9" r="1.36"/><circle cx="177.4" cy="45.8" r="1.36"/><circle cx="178.3" cy="45.8" r="1.36"/><circle cx="179.3" cy="45.8" r="1.36"/><circle cx="180.2" cy="45.8" r="1.36"/><circle cx="181.2" cy="45.8" r="1.36"/><circle cx="182.1" cy="45.8" r="1.36"/><circle cx="183.0" cy="45.8" r="1.36"/><circle cx="184.0" cy="45.8" r="1.36"/><circle cx="184.9" cy="45.8" r="1.36"/><circle cx="185.9" cy="45.8" r="1.36"/><circle cx="186.8" cy="45.8" r="1.36"/><circle cx="187.7" cy="45.8" r="1.36"/><circle cx="188.7" cy="45.8" r="1.36"/><circle cx="189.6" cy="45.8" r="1.36"/><circle cx="190.6" cy="45.8" r="1.36"/><circle cx="191.5" cy="45.8" r="1.36"/><circle cx="192.4" cy="45.8" r="1.36"/><circle cx="193.4" cy="45.8" r="1.36"/><circle cx="194.3" cy="45.8" r="1.36"/><circle cx="195.3" cy="45.8" r="1.36"/><circle cx="196.2" cy="45.8" r="1.36"/><circle cx="197.1" cy="45.8" r="1.36"/><circle cx="198.1" cy="45.8" r="1.36"/><circle cx="199.0" cy="45.8" r="1.36"/><circle cx="199.7" cy="33.6" r="1.36"/><circle cx="200.6" cy="33.6" r="1.36"/><circle cx="201.6" cy="33.6" r="1.36"/><circle cx="202.5" cy="33.6" r="1.36"/><circle cx="203.5" cy="33.6" r="1.36"/><circle cx="204.4" cy="33.6" r="1.36"/><circle cx="205.3" cy="33.6" r="1.36"/><circle cx="206.3" cy="33.6" r="1.36"/><circle cx="207.2" cy="33.6" r="1.36"/><circle cx="208.2" cy="33.6" r="1.36"/><circle cx="209.1" cy="33.6" r="1.36"/><circle cx="210.0" cy="33.6" r="1.36"/><circle cx="211.0" cy="33.6" r="1.36"/><circle cx="211.9" cy="33.6" r="1.36"/><circle cx="212.9" cy="21.4" r="1.36"/><circle cx="213.8" cy="21.4" r="1.36"/><circle cx="214.8" cy="21.4" r="1.36"/><circle cx="215.7" cy="21.4" r="1.36"/><circle cx="216.7" cy="21.4" r="1.36"/><circle cx="217.6" cy="21.4" r="1.36"/><circle cx="218.5" cy="21.4" r="1.36"/><circle cx="219.5" cy="21.4" r="1.36"/><circle cx="220.4" cy="21.4" r="1.36"/><circle cx="221.4" cy="21.4" r="1.36"/><circle cx="222.3" cy="21.4" r="1.36"/><circle cx="223.2" cy="21.4" r="1.36"/><circle cx="224.2" cy="21.4" r="1.36"/><circle cx="225.1" cy="21.4" r="1.36"/></g>
<g stroke-width="0.78" fill="#fff" fill-opacity="0.6" stroke-opacity="0.85"><circle cx="91.8" cy="159.6" r="1.55"/><circle cx="102.7" cy="147.4" r="1.55"/><circle cx="109.9" cy="139.3" r="1.55"/><circle cx="130.6" cy="127.1" r="1.55"/><circle cx="167.3" cy="78.3" r="1.55"/></g>
</g>
<g stroke="#f3111b" fill="none">
<path d="M38.5 188.1H39.5V183.3H39.6H40.5V178.6H40.3H41.5V173.8H42.3H43.5V169.0H44.9H45.5V164.3H48.4H49.5V159.5H55.3H56.5V154.8H56.5H57.5V150.0H57.8H58.5V145.2H58.3H59.5V140.5H59.3H61.5V135.7H61.4H63.5V130.9H63.8H65.5V126.2H69.9H71.5V121.4H71.2H72.5V116.7H72.2H73.5V111.9H76.8H77.5V107.1H91.0H91.5V102.4H91.5H92.5V97.6H92.5H93.5V92.8H93.2H93.5V88.1H93.8H94.5V83.3H96.6H97.5V78.6H103.9H104.5V73.8H104.4H105.5V69.0H107.3H108.5V64.3H111.2H112.5V59.5H117.0H118.5V54.7H125.0H125.5V50.0H125.5H126.5V45.2H126.3H127.5V40.5H145.1H146.5V35.7H159.4H160.5V30.9H172.1H172.5V26.2H176.7H177.5V21.4H187.8" stroke-width="0.55"/>
<g stroke-width="0.85" fill="#fff" fill-opacity="0.1"><circle cx="38.5" cy="188.1" r="1.36"/><circle cx="39.6" cy="183.3" r="1.36"/><circle cx="40.3" cy="178.6" r="1.36"/><circle cx="41.4" cy="173.8" r="1.36"/><circle cx="42.3" cy="173.8" r="1.36"/><circle cx="43.0" cy="169.0" r="1.36"/><circle cx="43.9" cy="169.0" r="1.36"/><circle cx="44.9" cy="169.0" r="1.36"/><circle cx="45.6" cy="164.3" r="1.36"/><circle cx="46.5" cy="164.3" r="1.36"/><circle cx="47.5" cy="164.3" r="1.36"/><circle cx="48.4" cy="164.3" r="1.36"/><circle cx="49.7" cy="159.5" r="1.36"/><circle cx="50.6" cy="159.5" r="1.36"/><circle cx="51.6" cy="159.5" r="1.36"/><circle cx="52.5" cy="159.5" r="1.36"/><circle cx="53.5" cy="159.5" r="1.36"/><circle cx="54.4" cy="159.5" r="1.36"/><circle cx="55.3" cy="159.5" r="1.36"/><circle cx="65.2" cy="126.2" r="1.36"/><circle cx="66.1" cy="126.2" r="1.36"/><circle cx="67.1" cy="126.2" r="1.36"/><circle cx="68.0" cy="126.2" r="1.36"/><circle cx="69.0" cy="126.2" r="1.36"/><circle cx="69.9" cy="126.2" r="1.36"/><circle cx="73.0" cy="111.9" r="1.36"/><circle cx="73.9" cy="111.9" r="1.36"/><circle cx="74.9" cy="111.9" r="1.36"/><circle cx="75.8" cy="111.9" r="1.36"/><circle cx="76.8" cy="111.9" r="1.36"/><circle cx="77.8" cy="107.1" r="1.36"/><circle cx="78.7" cy="107.1" r="1.36"/><circle cx="79.7" cy="107.1" r="1.36"/><circle cx="80.6" cy="107.1" r="1.36"/><circle cx="81.6" cy="107.1" r="1.36"/><circle cx="82.5" cy="107.1" r="1.36"/><circle cx="83.4" cy="107.1" r="1.36"/><circle cx="84.4" cy="107.1" r="1.36"/><circle cx="85.3" cy="107.1" r="1.36"/><circle cx="86.3" cy="107.1" r="1.36"/><circle cx="87.2" cy="107.1" r="1.36"/><circle cx="88.1" cy="107.1" r="1.36"/><circle cx="89.1" cy="107.1" r="1.36"/><circle cx="90.0" cy="107.1" r="1.36"/><circle cx="91.0" cy="107.1" r="1.36"/><circle cx="94.7" cy="83.3" r="1.36"/><circle cx="95.6" cy="83.3" r="1.36"/><circle cx="96.6" cy="83.3" r="1.36"/><circle cx="97.3" cy="78.6" r="1.36"/><circle cx="98.2" cy="78.6" r="1.36"/><circle cx="99.2" cy="78.6" r="1.36"/><circle cx="100.1" cy="78.6" r="1.36"/><circle cx="101.1" cy="78.6" r="1.36"/><circle cx="102.0" cy="78.6" r="1.36"/><circle cx="102.9" cy="78.6" r="1.36"/><circle cx="103.9" cy="78.6" r="1.36"/><circle cx="105.4" cy="69.0" r="1.36"/><circle cx="106.3" cy="69.0" r="1.36"/><circle cx="107.3" cy="69.0" r="1.36"/><circle cx="108.4" cy="64.3" r="1.36"/><circle cx="109.3" cy="64.3" r="1.36"/><circle cx="110.3" cy="64.3" r="1.36"/><circle cx="111.2" cy="64.3" r="1.36"/><circle cx="112.3" cy="59.5" r="1.36"/><circle cx="113.2" cy="59.5" r="1.36"/><circle cx="114.2" cy="59.5" r="1.36"/><circle cx="115.1" cy="59.5" r="1.36"/><circle cx="116.1" cy="59.5" r="1.36"/><circle cx="117.0" cy="59.5" r="1.36"/><circle cx="118.4" cy="54.7" r="1.36"/><circle cx="119.3" cy="54.7" r="1.36"/><circle cx="120.3" cy="54.7" r="1.36"/><circle cx="121.2" cy="54.7" r="1.36"/><circle cx="122.2" cy="54.7" r="1.36"/><circle cx="123.1" cy="54.7" r="1.36"/><circle cx="124.0" cy="54.7" r="1.36"/><circle cx="125.0" cy="54.7" r="1.36"/><circle cx="127.2" cy="40.5" r="1.36"/><circle cx="128.1" cy="40.5" r="1.36"/><circle cx="129.1" cy="40.5" r="1.36"/><circle cx="130.0" cy="40.5" r="1.36"/><circle cx="131.0" cy="40.5" r="1.36"/><circle cx="131.9" cy="40.5" r="1.36"/><circle cx="132.8" cy="40.5" r="1.36"/><circle cx="133.8" cy="40.5" r="1.36"/><circle cx="134.7" cy="40.5" r="1.36"/><circle cx="135.7" cy="40.5" r="1.36"/><circle cx="136.6" cy="40.5" r="1.36"/><circle cx="137.5" cy="40.5" r="1.36"/><circle cx="138.5" cy="40.5" r="1.36"/><circle cx="139.4" cy="40.5" r="1.36"/><circle cx="140.4" cy="40.5" r="1.36"/><circle cx="141.3" cy="40.5" r="1.36"/><circle cx="142.2" cy="40.5" r="1.36"/><circle cx="143.2" cy="40.5" r="1.36"/><circle cx="144.1" cy="40.5" r="1.36"/><circle cx="145.1" cy="40.5" r="1.36"/><circle cx="146.2" cy="35.7" r="1.36"/><circle cx="147.1" cy="35.7" r="1.36"/><circle cx="148.1" cy="35.7" r="1.36"/><circle cx="149.0" cy="35.7" r="1.36"/><circle cx="150.0" cy="35.7" r="1.36"/><circle cx="150.9" cy="35.7" r="1.36"/><circle cx="151.8" cy="35.7" r="1.36"/><circle cx="152.8" cy="35.7" r="1.36"/><circle cx="153.7" cy="35.7" r="1.36"/><circle cx="154.7" cy="35.7" r="1.36"/><circle cx="155.6" cy="35.7" r="1.36"/><circle cx="156.5" cy="35.7" r="1.36"/><circle cx="157.5" cy="35.7" r="1.36"/><circle cx="158.4" cy="35.7" r="1.36"/><circle cx="159.4" cy="35.7" r="1.36"/><circle cx="160.8" cy="30.9" r="1.36"/><circle cx="161.7" cy="30.9" r="1.36"/><circle cx="162.7" cy="30.9" r="1.36"/><circle cx="163.6" cy="30.9" r="1.36"/><circle cx="164.6" cy="30.9" r="1.36"/><circle cx="165.5" cy="30.9" r="1.36"/><circle cx="166.4" cy="30.9" r="1.36"/><circle cx="167.4" cy="30.9" r="1.36"/><circle cx="168.3" cy="30.9" r="1.36"/><circle cx="169.3" cy="30.9" r="1.36"/><circle cx="170.2" cy="30.9" r="1.36"/><circle cx="171.1" cy="30.9" r="1.36"/><circle cx="172.1" cy="30.9" r="1.36"/><circle cx="172.9" cy="26.2" r="1.36"/><circle cx="173.8" cy="26.2" r="1.36"/><circle cx="174.8" cy="26.2" r="1.36"/><circle cx="175.7" cy="26.2" r="1.36"/><circle cx="176.7" cy="26.2" r="1.36"/><circle cx="177.5" cy="21.4" r="1.36"/><circle cx="178.4" cy="21.4" r="1.36"/><circle cx="179.4" cy="21.4" r="1.36"/><circle cx="180.3" cy="21.4" r="1.36"/><circle cx="181.3" cy="21.4" r="1.36"/><circle cx="182.2" cy="21.4" r="1.36"/><circle cx="183.1" cy="21.4" r="1.36"/><circle cx="184.1" cy="21.4" r="1.36"/><circle cx="185.0" cy="21.4" r="1.36"/><circle cx="186.0" cy="21.4" r="1.36"/><circle cx="186.9" cy="21.4" r="1.36"/><circle cx="187.8" cy="21.4" r="1.36"/></g>
<g stroke-width="0.78" fill="#fff" fill-opacity="0.6" stroke-opacity="0.85"><circle cx="56.5" cy="154.8" r="1.55"/><circle cx="57.8" cy="150.0" r="1.55"/><circle cx="58.3" cy="145.2" r="1.55"/><circle cx="59.3" cy="140.5" r="1.55"/><circle cx="61.4" cy="135.7" r="1.55"/><circle cx="63.8" cy="130.9" r="1.55"/><circle cx="71.2" cy="121.4" r="1.55"/><circle cx="72.2" cy="116.7" r="1.55"/><circle cx="91.5" cy="102.4" r="1.55"/><circle cx="92.5" cy="97.6" r="1.55"/><circle cx="93.2" cy="92.8" r="1.55"/><circle cx="93.8" cy="88.1" r="1.55"/><circle cx="104.4" cy="73.8" r="1.55"/><circle cx="125.5" cy="50.0" r="1.55"/><circle cx="126.3" cy="45.2" r="1.55"/></g>
</g>
<text x="4.4" y="8.9" font-size="15.5" text-anchor="start" font-weight="bold" fill="#000" stroke="#000">a</text>
<text x="54.1" y="17.9" font-size="10.6" text-anchor="start" font-weight="bold" fill="#f3111b" stroke="#f3111b">[YOYO-1] = 20 nM</text>
<text x="230.6" y="24.6" font-size="10.4" text-anchor="start" font-weight="bold" fill="#5fa030" stroke="#5fa030">80 nM</text>
<text x="230.6" y="89.8" font-size="10.4" text-anchor="start" font-weight="bold" fill="#5fa030" stroke="#5fa030">40 nM</text>
<text x="230.6" y="159.9" font-size="10.4" text-anchor="start" font-weight="bold" fill="#5fa030" stroke="#5fa030">20 nM</text>
<text x="230.6" y="180.6" font-size="10.4" text-anchor="start" font-weight="bold" fill="#5fa030" stroke="#5fa030">10 nM</text>
<text x="285.7" y="128.6" font-size="10.4" text-anchor="start" font-weight="bold" fill="#5fa030" stroke="#5fa030" transform="rotate(-90 285.7 128.6)">[SYTOX green]</text>
<path d="M267.8 121.6V63" stroke="#5fa030" stroke-width="1.6" fill="none"/>
<path d="M267.8 59.4L272.6 70L267.8 67.2L263 70Z" fill="#5fa030"/>
<text x="155.5" y="219.6" font-size="12.5" text-anchor="middle" fill="#231f20" stroke="#231f20">Time, s</text>
<text x="10.2" y="94.7" font-size="12.7" text-anchor="middle" fill="#231f20" stroke="#231f20" transform="rotate(-90 10.2 94.7)">Cumulative probability</text>
</g>
<g id="panel-b">
<line x1="368.80" y1="187.80" x2="603.60" y2="187.80" stroke="#888888" stroke-width="1.4"/>
<line x1="369.50" y1="187.80" x2="369.50" y2="5.20" stroke="#888888" stroke-width="1.4"/>
<line x1="410.81" y1="187.80" x2="410.81" y2="186.00" stroke="#888888" stroke-width="0.9"/>
<text x="410.8" y="200.2" font-size="10.2" text-anchor="middle" fill="#231f20" stroke="#231f20">20</text>
<line x1="465.89" y1="187.80" x2="465.89" y2="186.00" stroke="#888888" stroke-width="0.9"/>
<text x="465.9" y="200.2" font-size="10.2" text-anchor="middle" fill="#231f20" stroke="#231f20">40</text>
<line x1="520.98" y1="187.80" x2="520.98" y2="186.00" stroke="#888888" stroke-width="0.9"/>
<text x="521.0" y="200.2" font-size="10.2" text-anchor="middle" fill="#231f20" stroke="#231f20">60</text>
<line x1="576.06" y1="187.80" x2="576.06" y2="186.00" stroke="#888888" stroke-width="0.9"/>
<text x="576.1" y="200.2" font-size="10.2" text-anchor="middle" fill="#231f20" stroke="#231f20">80</text>
<line x1="369.50" y1="187.80" x2="371.30" y2="187.80" stroke="#888888" stroke-width="0.9"/>
<text x="364.8" y="192.0" font-size="10.2" text-anchor="end" fill="#231f20" stroke="#231f20">0</text>
<line x1="369.50" y1="157.37" x2="371.30" y2="157.37" stroke="#888888" stroke-width="0.9"/>
<text x="364.8" y="161.6" font-size="10.2" text-anchor="end" fill="#231f20" stroke="#231f20">0.5</text>
<line x1="369.50" y1="126.93" x2="371.30" y2="126.93" stroke="#888888" stroke-width="0.9"/>
<text x="364.8" y="131.1" font-size="10.2" text-anchor="end" fill="#231f20" stroke="#231f20">1</text>
<line x1="369.50" y1="96.50" x2="371.30" y2="96.50" stroke="#888888" stroke-width="0.9"/>
<text x="364.8" y="100.7" font-size="10.2" text-anchor="end" fill="#231f20" stroke="#231f20">1.5</text>
<line x1="369.50" y1="66.07" x2="371.30" y2="66.07" stroke="#888888" stroke-width="0.9"/>
<text x="364.8" y="70.3" font-size="10.2" text-anchor="end" fill="#231f20" stroke="#231f20">2</text>
<line x1="369.50" y1="35.63" x2="371.30" y2="35.63" stroke="#888888" stroke-width="0.9"/>
<text x="364.8" y="39.8" font-size="10.2" text-anchor="end" fill="#231f20" stroke="#231f20">2.5</text>
<line x1="369.50" y1="5.20" x2="371.30" y2="5.20" stroke="#888888" stroke-width="0.9"/>
<text x="364.8" y="9.4" font-size="10.2" text-anchor="end" fill="#231f20" stroke="#231f20">3</text>
<path d="M383.3 183.3L410.8 177.0L465.9 148.3L576.1 108.4" stroke="#0ca453" stroke-width="1.2" fill="none"/>
<circle cx="383.3" cy="183.3" r="3.25" fill="#0ca453"/>
<circle cx="410.8" cy="177.0" r="3.25" fill="#0ca453"/>
<line x1="465.89" y1="156.33" x2="465.89" y2="140.08" stroke="#0ca453" stroke-width="1.2"/>
<line x1="463.59" y1="156.33" x2="468.19" y2="156.33" stroke="#0ca453" stroke-width="1.0"/>
<line x1="463.59" y1="140.08" x2="468.19" y2="140.08" stroke="#0ca453" stroke-width="1.0"/>
<circle cx="465.9" cy="148.3" r="3.25" fill="#0ca453"/>
<line x1="576.06" y1="124.44" x2="576.06" y2="92.12" stroke="#0ca453" stroke-width="1.2"/>
<line x1="573.76" y1="124.44" x2="578.36" y2="124.44" stroke="#0ca453" stroke-width="1.0"/>
<line x1="573.76" y1="92.12" x2="578.36" y2="92.12" stroke="#0ca453" stroke-width="1.0"/>
<circle cx="576.1" cy="108.4" r="3.25" fill="#0ca453"/>
<path d="M383.3 154.8L410.8 115.5L465.9 48.4" stroke="#f3111b" stroke-width="1.2" fill="none"/>
<line x1="383.27" y1="158.34" x2="383.27" y2="151.28" stroke="#f3111b" stroke-width="1.2"/>
<line x1="382.37" y1="158.34" x2="384.17" y2="158.34" stroke="#f3111b" stroke-width="1.0"/>
<line x1="382.37" y1="151.28" x2="384.17" y2="151.28" stroke="#f3111b" stroke-width="1.0"/>
<rect x="380.8" y="152.0" width="4.9" height="5.63" fill="#f3111b"/>
<line x1="410.81" y1="122.79" x2="410.81" y2="107.88" stroke="#f3111b" stroke-width="1.2"/>
<line x1="409.91" y1="122.79" x2="411.71" y2="122.79" stroke="#f3111b" stroke-width="1.0"/>
<line x1="409.91" y1="107.88" x2="411.71" y2="107.88" stroke="#f3111b" stroke-width="1.0"/>
<rect x="408.4" y="112.7" width="4.9" height="5.63" fill="#f3111b"/>
<line x1="465.89" y1="62.84" x2="465.89" y2="33.99" stroke="#f3111b" stroke-width="1.2"/>
<line x1="464.99" y1="62.84" x2="466.79" y2="62.84" stroke="#f3111b" stroke-width="1.0"/>
<line x1="464.99" y1="33.99" x2="466.79" y2="33.99" stroke="#f3111b" stroke-width="1.0"/>
<rect x="463.4" y="45.6" width="4.9" height="5.63" fill="#f3111b"/>
<text x="332.0" y="12.6" font-size="15.5" text-anchor="start" font-weight="bold" fill="#000" stroke="#000">b</text>
<text x="486.4" y="219.6" font-size="12.7" text-anchor="middle" fill="#231f20" stroke="#231f20">Concentration, nM</text>
<text x="337" y="95" font-size="12.5" text-anchor="middle" fill="#231f20" stroke="#231f20" transform="rotate(-90 337 95)">n<tspan font-size="10" dy="5">b</tspan><tspan dy="-5">, 1/s</tspan></text>
</g>
<g id="panel-c">
<line x1="38.65" y1="426.80" x2="273.30" y2="426.80" stroke="#6a6a6a" stroke-width="0.9"/>
<line x1="39.10" y1="426.80" x2="39.10" y2="243.00" stroke="#6a6a6a" stroke-width="0.9"/>
<line x1="39.10" y1="426.80" x2="39.10" y2="424.50" stroke="#6a6a6a" stroke-width="0.9"/>
<text x="39.1" y="439.2" font-size="10.3" text-anchor="middle" fill="#231f20" stroke="#231f20">0</text>
<line x1="85.94" y1="426.80" x2="85.94" y2="424.50" stroke="#6a6a6a" stroke-width="0.9"/>
<text x="85.9" y="439.2" font-size="10.3" text-anchor="middle" fill="#231f20" stroke="#231f20">10</text>
<line x1="132.78" y1="426.80" x2="132.78" y2="424.50" stroke="#6a6a6a" stroke-width="0.9"/>
<text x="132.8" y="439.2" font-size="10.3" text-anchor="middle" fill="#231f20" stroke="#231f20">20</text>
<line x1="179.62" y1="426.80" x2="179.62" y2="424.50" stroke="#6a6a6a" stroke-width="0.9"/>
<text x="179.6" y="439.2" font-size="10.3" text-anchor="middle" fill="#231f20" stroke="#231f20">30</text>
<line x1="226.46" y1="426.80" x2="226.46" y2="424.50" stroke="#6a6a6a" stroke-width="0.9"/>
<text x="226.5" y="439.2" font-size="10.3" text-anchor="middle" fill="#231f20" stroke="#231f20">40</text>
<line x1="273.30" y1="426.80" x2="273.30" y2="424.50" stroke="#6a6a6a" stroke-width="0.9"/>
<text x="273.3" y="439.2" font-size="10.3" text-anchor="middle" fill="#231f20" stroke="#231f20">50</text>
<line x1="39.10" y1="426.80" x2="41.40" y2="426.80" stroke="#6a6a6a" stroke-width="0.9"/>
<text x="34.8" y="431.3" font-size="10.3" text-anchor="end" fill="#231f20" stroke="#231f20">0</text>
<line x1="39.10" y1="396.32" x2="41.40" y2="396.32" stroke="#6a6a6a" stroke-width="0.9"/>
<text x="34.8" y="400.8" font-size="10.3" text-anchor="end" fill="#231f20" stroke="#231f20">0.2</text>
<line x1="39.10" y1="365.84" x2="41.40" y2="365.84" stroke="#6a6a6a" stroke-width="0.9"/>
<text x="34.8" y="370.3" font-size="10.3" text-anchor="end" fill="#231f20" stroke="#231f20">0.4</text>
<line x1="39.10" y1="335.36" x2="41.40" y2="335.36" stroke="#6a6a6a" stroke-width="0.9"/>
<text x="34.8" y="339.9" font-size="10.3" text-anchor="end" fill="#231f20" stroke="#231f20">0.6</text>
<line x1="39.10" y1="304.88" x2="41.40" y2="304.88" stroke="#6a6a6a" stroke-width="0.9"/>
<text x="34.8" y="309.4" font-size="10.3" text-anchor="end" fill="#231f20" stroke="#231f20">0.8</text>
<line x1="39.10" y1="274.40" x2="41.40" y2="274.40" stroke="#6a6a6a" stroke-width="0.9"/>
<text x="34.8" y="278.9" font-size="10.3" text-anchor="end" fill="#231f20" stroke="#231f20">1</text>
<g stroke="#82864f" fill="none">
<path d="M39.1 426.8H202.7H203.5V422.0H221.2H221.5V417.3H224.5" stroke-width="0.55"/>
<g stroke-width="0.85" fill="#fff" fill-opacity="0.1"><circle cx="39.1" cy="426.8" r="1.36"/><circle cx="40.0" cy="426.8" r="1.36"/><circle cx="41.0" cy="426.8" r="1.36"/><circle cx="41.9" cy="426.8" r="1.36"/><circle cx="42.9" cy="426.8" r="1.36"/><circle cx="43.8" cy="426.8" r="1.36"/><circle cx="44.7" cy="426.8" r="1.36"/><circle cx="45.7" cy="426.8" r="1.36"/><circle cx="46.6" cy="426.8" r="1.36"/><circle cx="47.6" cy="426.8" r="1.36"/><circle cx="48.5" cy="426.8" r="1.36"/><circle cx="49.4" cy="426.8" r="1.36"/><circle cx="50.4" cy="426.8" r="1.36"/><circle cx="51.3" cy="426.8" r="1.36"/><circle cx="52.3" cy="426.8" r="1.36"/><circle cx="53.2" cy="426.8" r="1.36"/><circle cx="54.1" cy="426.8" r="1.36"/><circle cx="55.1" cy="426.8" r="1.36"/><circle cx="56.0" cy="426.8" r="1.36"/><circle cx="57.0" cy="426.8" r="1.36"/><circle cx="57.9" cy="426.8" r="1.36"/><circle cx="58.8" cy="426.8" r="1.36"/><circle cx="59.8" cy="426.8" r="1.36"/><circle cx="60.7" cy="426.8" r="1.36"/><circle cx="61.7" cy="426.8" r="1.36"/><circle cx="62.6" cy="426.8" r="1.36"/><circle cx="63.5" cy="426.8" r="1.36"/><circle cx="64.5" cy="426.8" r="1.36"/><circle cx="65.4" cy="426.8" r="1.36"/><circle cx="66.4" cy="426.8" r="1.36"/><circle cx="67.3" cy="426.8" r="1.36"/><circle cx="68.2" cy="426.8" r="1.36"/><circle cx="69.2" cy="426.8" r="1.36"/><circle cx="70.1" cy="426.8" r="1.36"/><circle cx="71.1" cy="426.8" r="1.36"/><circle cx="72.0" cy="426.8" r="1.36"/><circle cx="72.9" cy="426.8" r="1.36"/><circle cx="73.9" cy="426.8" r="1.36"/><circle cx="74.8" cy="426.8" r="1.36"/><circle cx="75.8" cy="426.8" r="1.36"/><circle cx="76.7" cy="426.8" r="1.36"/><circle cx="77.6" cy="426.8" r="1.36"/><circle cx="78.6" cy="426.8" r="1.36"/><circle cx="79.5" cy="426.8" r="1.36"/><circle cx="80.5" cy="426.8" r="1.36"/><circle cx="81.4" cy="426.8" r="1.36"/><circle cx="82.3" cy="426.8" r="1.36"/><circle cx="83.3" cy="426.8" r="1.36"/><circle cx="84.2" cy="426.8" r="1.36"/><circle cx="85.2" cy="426.8" r="1.36"/><circle cx="86.1" cy="426.8" r="1.36"/><circle cx="87.0" cy="426.8" r="1.36"/><circle cx="88.0" cy="426.8" r="1.36"/><circle cx="88.9" cy="426.8" r="1.36"/><circle cx="89.9" cy="426.8" r="1.36"/><circle cx="90.8" cy="426.8" r="1.36"/><circle cx="91.7" cy="426.8" r="1.36"/><circle cx="92.7" cy="426.8" r="1.36"/><circle cx="93.6" cy="426.8" r="1.36"/><circle cx="94.6" cy="426.8" r="1.36"/><circle cx="95.5" cy="426.8" r="1.36"/><circle cx="96.4" cy="426.8" r="1.36"/><circle cx="97.4" cy="426.8" r="1.36"/><circle cx="98.3" cy="426.8" r="1.36"/><circle cx="99.3" cy="426.8" r="1.36"/><circle cx="100.2" cy="426.8" r="1.36"/><circle cx="101.1" cy="426.8" r="1.36"/><circle cx="102.1" cy="426.8" r="1.36"/><circle cx="103.0" cy="426.8" r="1.36"/><circle cx="104.0" cy="426.8" r="1.36"/><circle cx="104.9" cy="426.8" r="1.36"/><circle cx="105.8" cy="426.8" r="1.36"/><circle cx="106.8" cy="426.8" r="1.36"/><circle cx="107.7" cy="426.8" r="1.36"/><circle cx="108.7" cy="426.8" r="1.36"/><circle cx="109.6" cy="426.8" r="1.36"/><circle cx="110.5" cy="426.8" r="1.36"/><circle cx="111.5" cy="426.8" r="1.36"/><circle cx="112.4" cy="426.8" r="1.36"/><circle cx="113.4" cy="426.8" r="1.36"/><circle cx="114.3" cy="426.8" r="1.36"/><circle cx="115.2" cy="426.8" r="1.36"/><circle cx="116.2" cy="426.8" r="1.36"/><circle cx="117.1" cy="426.8" r="1.36"/><circle cx="118.1" cy="426.8" r="1.36"/><circle cx="119.0" cy="426.8" r="1.36"/><circle cx="119.9" cy="426.8" r="1.36"/><circle cx="120.9" cy="426.8" r="1.36"/><circle cx="121.8" cy="426.8" r="1.36"/><circle cx="122.8" cy="426.8" r="1.36"/><circle cx="123.7" cy="426.8" r="1.36"/><circle cx="124.6" cy="426.8" r="1.36"/><circle cx="125.6" cy="426.8" r="1.36"/><circle cx="126.5" cy="426.8" r="1.36"/><circle cx="127.5" cy="426.8" r="1.36"/><circle cx="128.4" cy="426.8" r="1.36"/><circle cx="129.3" cy="426.8" r="1.36"/><circle cx="130.3" cy="426.8" r="1.36"/><circle cx="131.2" cy="426.8" r="1.36"/><circle cx="132.2" cy="426.8" r="1.36"/><circle cx="133.1" cy="426.8" r="1.36"/><circle cx="134.0" cy="426.8" r="1.36"/><circle cx="135.0" cy="426.8" r="1.36"/><circle cx="135.9" cy="426.8" r="1.36"/><circle cx="136.9" cy="426.8" r="1.36"/><circle cx="137.8" cy="426.8" r="1.36"/><circle cx="138.7" cy="426.8" r="1.36"/><circle cx="139.7" cy="426.8" r="1.36"/><circle cx="140.6" cy="426.8" r="1.36"/><circle cx="141.6" cy="426.8" r="1.36"/><circle cx="142.5" cy="426.8" r="1.36"/><circle cx="143.4" cy="426.8" r="1.36"/><circle cx="144.4" cy="426.8" r="1.36"/><circle cx="145.3" cy="426.8" r="1.36"/><circle cx="146.3" cy="426.8" r="1.36"/><circle cx="147.2" cy="426.8" r="1.36"/><circle cx="148.1" cy="426.8" r="1.36"/><circle cx="149.1" cy="426.8" r="1.36"/><circle cx="150.0" cy="426.8" r="1.36"/><circle cx="151.0" cy="426.8" r="1.36"/><circle cx="151.9" cy="426.8" r="1.36"/><circle cx="152.8" cy="426.8" r="1.36"/><circle cx="153.8" cy="426.8" r="1.36"/><circle cx="154.7" cy="426.8" r="1.36"/><circle cx="155.7" cy="426.8" r="1.36"/><circle cx="156.6" cy="426.8" r="1.36"/><circle cx="157.5" cy="426.8" r="1.36"/><circle cx="158.5" cy="426.8" r="1.36"/><circle cx="159.4" cy="426.8" r="1.36"/><circle cx="160.4" cy="426.8" r="1.36"/><circle cx="161.3" cy="426.8" r="1.36"/><circle cx="162.2" cy="426.8" r="1.36"/><circle cx="163.2" cy="426.8" r="1.36"/><circle cx="164.1" cy="426.8" r="1.36"/><circle cx="165.1" cy="426.8" r="1.36"/><circle cx="166.0" cy="426.8" r="1.36"/><circle cx="166.9" cy="426.8" r="1.36"/><circle cx="167.9" cy="426.8" r="1.36"/><circle cx="168.8" cy="426.8" r="1.36"/><circle cx="169.8" cy="426.8" r="1.36"/><circle cx="170.7" cy="426.8" r="1.36"/><circle cx="171.6" cy="426.8" r="1.36"/><circle cx="172.6" cy="426.8" r="1.36"/><circle cx="173.5" cy="426.8" r="1.36"/><circle cx="174.5" cy="426.8" r="1.36"/><circle cx="175.4" cy="426.8" r="1.36"/><circle cx="176.3" cy="426.8" r="1.36"/><circle cx="177.3" cy="426.8" r="1.36"/><circle cx="178.2" cy="426.8" r="1.36"/><circle cx="179.2" cy="426.8" r="1.36"/><circle cx="180.1" cy="426.8" r="1.36"/><circle cx="181.0" cy="426.8" r="1.36"/><circle cx="182.0" cy="426.8" r="1.36"/><circle cx="182.9" cy="426.8" r="1.36"/><circle cx="183.9" cy="426.8" r="1.36"/><circle cx="184.8" cy="426.8" r="1.36"/><circle cx="185.7" cy="426.8" r="1.36"/><circle cx="186.7" cy="426.8" r="1.36"/><circle cx="187.6" cy="426.8" r="1.36"/><circle cx="188.6" cy="426.8" r="1.36"/><circle cx="189.5" cy="426.8" r="1.36"/><circle cx="190.4" cy="426.8" r="1.36"/><circle cx="191.4" cy="426.8" r="1.36"/><circle cx="192.3" cy="426.8" r="1.36"/><circle cx="193.3" cy="426.8" r="1.36"/><circle cx="194.2" cy="426.8" r="1.36"/><circle cx="195.1" cy="426.8" r="1.36"/><circle cx="196.1" cy="426.8" r="1.36"/><circle cx="197.0" cy="426.8" r="1.36"/><circle cx="198.0" cy="426.8" r="1.36"/><circle cx="198.9" cy="426.8" r="1.36"/><circle cx="199.8" cy="426.8" r="1.36"/><circle cx="200.8" cy="426.8" r="1.36"/><circle cx="201.7" cy="426.8" r="1.36"/><circle cx="202.7" cy="426.8" r="1.36"/><circle cx="203.3" cy="422.0" r="1.36"/><circle cx="204.2" cy="422.0" r="1.36"/><circle cx="205.2" cy="422.0" r="1.36"/><circle cx="206.1" cy="422.0" r="1.36"/><circle cx="207.1" cy="422.0" r="1.36"/><circle cx="208.0" cy="422.0" r="1.36"/><circle cx="208.9" cy="422.0" r="1.36"/><circle cx="209.9" cy="422.0" r="1.36"/><circle cx="210.8" cy="422.0" r="1.36"/><circle cx="211.8" cy="422.0" r="1.36"/><circle cx="212.7" cy="422.0" r="1.36"/><circle cx="213.6" cy="422.0" r="1.36"/><circle cx="214.6" cy="422.0" r="1.36"/><circle cx="215.5" cy="422.0" r="1.36"/><circle cx="216.5" cy="422.0" r="1.36"/><circle cx="217.4" cy="422.0" r="1.36"/><circle cx="218.3" cy="422.0" r="1.36"/><circle cx="219.3" cy="422.0" r="1.36"/><circle cx="220.2" cy="422.0" r="1.36"/><circle cx="221.2" cy="422.0" r="1.36"/><circle cx="221.7" cy="417.3" r="1.36"/><circle cx="222.6" cy="417.3" r="1.36"/><circle cx="223.6" cy="417.3" r="1.36"/><circle cx="224.5" cy="417.3" r="1.36"/></g>
</g>
<g stroke="#4f8f4f" fill="none">
<path d="M39.1 426.8H65.4H66.5V422.0H70.6H71.5V412.5H74.6H76.5V407.8H84.5H85.5V403.0H89.4H90.5V398.2H90.4H90.5V393.5H90.9H91.5V388.7H91.4H91.5V383.9H93.8H95.5V379.2H102.7H104.5V374.4H104.0H105.5V369.6H121.9H122.5V364.9H122.9H123.5V360.1H126.5H127.5V355.4H127.9H128.5V350.6H145.5H146.5V345.8H160.1H160.5V341.1H169.4H170.5V336.3H179.0H179.5V331.5H183.4H184.5V326.8H202.4H203.5V322.0H220.9H221.5V317.3H225.6" stroke-width="0.55"/>
<g stroke-width="0.85" fill="#fff" fill-opacity="0.1"><circle cx="39.1" cy="426.8" r="1.36"/><circle cx="40.0" cy="426.8" r="1.36"/><circle cx="41.0" cy="426.8" r="1.36"/><circle cx="41.9" cy="426.8" r="1.36"/><circle cx="42.9" cy="426.8" r="1.36"/><circle cx="43.8" cy="426.8" r="1.36"/><circle cx="44.7" cy="426.8" r="1.36"/><circle cx="45.7" cy="426.8" r="1.36"/><circle cx="46.6" cy="426.8" r="1.36"/><circle cx="47.6" cy="426.8" r="1.36"/><circle cx="48.5" cy="426.8" r="1.36"/><circle cx="49.4" cy="426.8" r="1.36"/><circle cx="50.4" cy="426.8" r="1.36"/><circle cx="51.3" cy="426.8" r="1.36"/><circle cx="52.3" cy="426.8" r="1.36"/><circle cx="53.2" cy="426.8" r="1.36"/><circle cx="54.1" cy="426.8" r="1.36"/><circle cx="55.1" cy="426.8" r="1.36"/><circle cx="56.0" cy="426.8" r="1.36"/><circle cx="57.0" cy="426.8" r="1.36"/><circle cx="57.9" cy="426.8" r="1.36"/><circle cx="58.8" cy="426.8" r="1.36"/><circle cx="59.8" cy="426.8" r="1.36"/><circle cx="60.7" cy="426.8" r="1.36"/><circle cx="61.7" cy="426.8" r="1.36"/><circle cx="62.6" cy="426.8" r="1.36"/><circle cx="63.5" cy="426.8" r="1.36"/><circle cx="64.5" cy="426.8" r="1.36"/><circle cx="65.4" cy="426.8" r="1.36"/><circle cx="66.8" cy="422.0" r="1.36"/><circle cx="67.7" cy="422.0" r="1.36"/><circle cx="68.7" cy="422.0" r="1.36"/><circle cx="69.6" cy="422.0" r="1.36"/><circle cx="70.6" cy="422.0" r="1.36"/><circle cx="71.8" cy="412.5" r="1.36"/><circle cx="72.7" cy="412.5" r="1.36"/><circle cx="73.7" cy="412.5" r="1.36"/><circle cx="74.6" cy="412.5" r="1.36"/><circle cx="76.0" cy="407.8" r="1.36"/><circle cx="76.9" cy="407.8" r="1.36"/><circle cx="77.9" cy="407.8" r="1.36"/><circle cx="78.8" cy="407.8" r="1.36"/><circle cx="79.8" cy="407.8" r="1.36"/><circle cx="80.7" cy="407.8" r="1.36"/><circle cx="81.6" cy="407.8" r="1.36"/><circle cx="82.6" cy="407.8" r="1.36"/><circle cx="83.5" cy="407.8" r="1.36"/><circle cx="84.5" cy="407.8" r="1.36"/><circle cx="85.6" cy="403.0" r="1.36"/><circle cx="86.5" cy="403.0" r="1.36"/><circle cx="87.5" cy="403.0" r="1.36"/><circle cx="88.4" cy="403.0" r="1.36"/><circle cx="89.4" cy="403.0" r="1.36"/><circle cx="91.9" cy="383.9" r="1.36"/><circle cx="92.8" cy="383.9" r="1.36"/><circle cx="93.8" cy="383.9" r="1.36"/><circle cx="95.2" cy="379.2" r="1.36"/><circle cx="96.1" cy="379.2" r="1.36"/><circle cx="97.1" cy="379.2" r="1.36"/><circle cx="98.0" cy="379.2" r="1.36"/><circle cx="99.0" cy="379.2" r="1.36"/><circle cx="99.9" cy="379.2" r="1.36"/><circle cx="100.8" cy="379.2" r="1.36"/><circle cx="101.8" cy="379.2" r="1.36"/><circle cx="102.7" cy="379.2" r="1.36"/><circle cx="105.0" cy="369.6" r="1.36"/><circle cx="105.9" cy="369.6" r="1.36"/><circle cx="106.9" cy="369.6" r="1.36"/><circle cx="107.8" cy="369.6" r="1.36"/><circle cx="108.8" cy="369.6" r="1.36"/><circle cx="109.7" cy="369.6" r="1.36"/><circle cx="110.6" cy="369.6" r="1.36"/><circle cx="111.6" cy="369.6" r="1.36"/><circle cx="112.5" cy="369.6" r="1.36"/><circle cx="113.5" cy="369.6" r="1.36"/><circle cx="114.4" cy="369.6" r="1.36"/><circle cx="115.3" cy="369.6" r="1.36"/><circle cx="116.3" cy="369.6" r="1.36"/><circle cx="117.2" cy="369.6" r="1.36"/><circle cx="118.2" cy="369.6" r="1.36"/><circle cx="119.1" cy="369.6" r="1.36"/><circle cx="120.0" cy="369.6" r="1.36"/><circle cx="121.0" cy="369.6" r="1.36"/><circle cx="121.9" cy="369.6" r="1.36"/><circle cx="123.7" cy="360.1" r="1.36"/><circle cx="124.6" cy="360.1" r="1.36"/><circle cx="125.6" cy="360.1" r="1.36"/><circle cx="126.5" cy="360.1" r="1.36"/><circle cx="128.6" cy="350.6" r="1.36"/><circle cx="129.5" cy="350.6" r="1.36"/><circle cx="130.5" cy="350.6" r="1.36"/><circle cx="131.4" cy="350.6" r="1.36"/><circle cx="132.4" cy="350.6" r="1.36"/><circle cx="133.3" cy="350.6" r="1.36"/><circle cx="134.2" cy="350.6" r="1.36"/><circle cx="135.2" cy="350.6" r="1.36"/><circle cx="136.1" cy="350.6" r="1.36"/><circle cx="137.1" cy="350.6" r="1.36"/><circle cx="138.0" cy="350.6" r="1.36"/><circle cx="138.9" cy="350.6" r="1.36"/><circle cx="139.9" cy="350.6" r="1.36"/><circle cx="140.8" cy="350.6" r="1.36"/><circle cx="141.8" cy="350.6" r="1.36"/><circle cx="142.7" cy="350.6" r="1.36"/><circle cx="143.6" cy="350.6" r="1.36"/><circle cx="144.6" cy="350.6" r="1.36"/><circle cx="145.5" cy="350.6" r="1.36"/><circle cx="146.9" cy="345.8" r="1.36"/><circle cx="147.8" cy="345.8" r="1.36"/><circle cx="148.8" cy="345.8" r="1.36"/><circle cx="149.7" cy="345.8" r="1.36"/><circle cx="150.7" cy="345.8" r="1.36"/><circle cx="151.6" cy="345.8" r="1.36"/><circle cx="152.5" cy="345.8" r="1.36"/><circle cx="153.5" cy="345.8" r="1.36"/><circle cx="154.4" cy="345.8" r="1.36"/><circle cx="155.4" cy="345.8" r="1.36"/><circle cx="156.3" cy="345.8" r="1.36"/><circle cx="157.2" cy="345.8" r="1.36"/><circle cx="158.2" cy="345.8" r="1.36"/><circle cx="159.1" cy="345.8" r="1.36"/><circle cx="160.1" cy="345.8" r="1.36"/><circle cx="160.9" cy="341.1" r="1.36"/><circle cx="161.8" cy="341.1" r="1.36"/><circle cx="162.8" cy="341.1" r="1.36"/><circle cx="163.7" cy="341.1" r="1.36"/><circle cx="164.7" cy="341.1" r="1.36"/><circle cx="165.6" cy="341.1" r="1.36"/><circle cx="166.5" cy="341.1" r="1.36"/><circle cx="167.5" cy="341.1" r="1.36"/><circle cx="168.4" cy="341.1" r="1.36"/><circle cx="169.4" cy="341.1" r="1.36"/><circle cx="170.5" cy="336.3" r="1.36"/><circle cx="171.4" cy="336.3" r="1.36"/><circle cx="172.4" cy="336.3" r="1.36"/><circle cx="173.3" cy="336.3" r="1.36"/><circle cx="174.3" cy="336.3" r="1.36"/><circle cx="175.2" cy="336.3" r="1.36"/><circle cx="176.1" cy="336.3" r="1.36"/><circle cx="177.1" cy="336.3" r="1.36"/><circle cx="178.0" cy="336.3" r="1.36"/><circle cx="179.0" cy="336.3" r="1.36"/><circle cx="179.6" cy="331.5" r="1.36"/><circle cx="180.5" cy="331.5" r="1.36"/><circle cx="181.5" cy="331.5" r="1.36"/><circle cx="182.4" cy="331.5" r="1.36"/><circle cx="183.4" cy="331.5" r="1.36"/><circle cx="184.5" cy="326.8" r="1.36"/><circle cx="185.4" cy="326.8" r="1.36"/><circle cx="186.4" cy="326.8" r="1.36"/><circle cx="187.3" cy="326.8" r="1.36"/><circle cx="188.3" cy="326.8" r="1.36"/><circle cx="189.2" cy="326.8" r="1.36"/><circle cx="190.1" cy="326.8" r="1.36"/><circle cx="191.1" cy="326.8" r="1.36"/><circle cx="192.0" cy="326.8" r="1.36"/><circle cx="193.0" cy="326.8" r="1.36"/><circle cx="193.9" cy="326.8" r="1.36"/><circle cx="194.8" cy="326.8" r="1.36"/><circle cx="195.8" cy="326.8" r="1.36"/><circle cx="196.7" cy="326.8" r="1.36"/><circle cx="197.7" cy="326.8" r="1.36"/><circle cx="198.6" cy="326.8" r="1.36"/><circle cx="199.5" cy="326.8" r="1.36"/><circle cx="200.5" cy="326.8" r="1.36"/><circle cx="201.4" cy="326.8" r="1.36"/><circle cx="202.4" cy="326.8" r="1.36"/><circle cx="203.0" cy="322.0" r="1.36"/><circle cx="203.9" cy="322.0" r="1.36"/><circle cx="204.9" cy="322.0" r="1.36"/><circle cx="205.8" cy="322.0" r="1.36"/><circle cx="206.8" cy="322.0" r="1.36"/><circle cx="207.7" cy="322.0" r="1.36"/><circle cx="208.6" cy="322.0" r="1.36"/><circle cx="209.6" cy="322.0" r="1.36"/><circle cx="210.5" cy="322.0" r="1.36"/><circle cx="211.5" cy="322.0" r="1.36"/><circle cx="212.4" cy="322.0" r="1.36"/><circle cx="213.3" cy="322.0" r="1.36"/><circle cx="214.3" cy="322.0" r="1.36"/><circle cx="215.2" cy="322.0" r="1.36"/><circle cx="216.2" cy="322.0" r="1.36"/><circle cx="217.1" cy="322.0" r="1.36"/><circle cx="218.0" cy="322.0" r="1.36"/><circle cx="219.0" cy="322.0" r="1.36"/><circle cx="219.9" cy="322.0" r="1.36"/><circle cx="220.9" cy="322.0" r="1.36"/><circle cx="221.8" cy="317.3" r="1.36"/><circle cx="222.7" cy="317.3" r="1.36"/><circle cx="223.7" cy="317.3" r="1.36"/><circle cx="224.6" cy="317.3" r="1.36"/><circle cx="225.6" cy="317.3" r="1.36"/></g>
<g stroke-width="0.78" fill="#fff" fill-opacity="0.6" stroke-opacity="0.85"><circle cx="90.4" cy="398.2" r="1.55"/><circle cx="90.9" cy="393.5" r="1.55"/><circle cx="91.4" cy="388.7" r="1.55"/><circle cx="104.0" cy="374.4" r="1.55"/><circle cx="122.9" cy="364.9" r="1.55"/><circle cx="127.9" cy="355.4" r="1.55"/></g>
</g>
<g stroke="#7fb04a" fill="none">
<path d="M39.1 426.8H43.8H44.5V420.7H46.8H47.5V414.6H59.2H60.5V408.5H60.0H61.5V402.4H65.7H66.5V396.3H66.4H67.5V390.2H67.0H67.5V384.1H67.5H68.5V378.0H68.2H69.5V371.9H73.0H73.5V365.8H84.0H84.5V359.7H92.1H93.5V353.6H97.8H98.5V347.6H100.5H101.5V341.5H103.6H104.5V335.4H105.6H106.5V329.3H109.7H110.5V323.2H110.4H110.5V317.1H110.9H111.5V311.0H111.8H112.5V304.9H112.4H113.5V298.8H113.1H113.5V292.7H120.4H121.5V286.6H137.9H138.5V280.5H183.7H185.5V274.4H225.4" stroke-width="0.55"/>
<g stroke-width="0.85" fill="#fff" fill-opacity="0.1"><circle cx="39.1" cy="426.8" r="1.36"/><circle cx="40.0" cy="426.8" r="1.36"/><circle cx="41.0" cy="426.8" r="1.36"/><circle cx="41.9" cy="426.8" r="1.36"/><circle cx="42.9" cy="426.8" r="1.36"/><circle cx="43.8" cy="426.8" r="1.36"/><circle cx="44.9" cy="420.7" r="1.36"/><circle cx="45.8" cy="420.7" r="1.36"/><circle cx="46.8" cy="420.7" r="1.36"/><circle cx="47.9" cy="414.6" r="1.36"/><circle cx="48.8" cy="414.6" r="1.36"/><circle cx="49.8" cy="414.6" r="1.36"/><circle cx="50.7" cy="414.6" r="1.36"/><circle cx="51.7" cy="414.6" r="1.36"/><circle cx="52.6" cy="414.6" r="1.36"/><circle cx="53.5" cy="414.6" r="1.36"/><circle cx="54.5" cy="414.6" r="1.36"/><circle cx="55.4" cy="414.6" r="1.36"/><circle cx="56.4" cy="414.6" r="1.36"/><circle cx="57.3" cy="414.6" r="1.36"/><circle cx="58.2" cy="414.6" r="1.36"/><circle cx="59.2" cy="414.6" r="1.36"/><circle cx="61.0" cy="402.4" r="1.36"/><circle cx="61.9" cy="402.4" r="1.36"/><circle cx="62.9" cy="402.4" r="1.36"/><circle cx="63.8" cy="402.4" r="1.36"/><circle cx="64.8" cy="402.4" r="1.36"/><circle cx="65.7" cy="402.4" r="1.36"/><circle cx="69.2" cy="371.9" r="1.36"/><circle cx="70.1" cy="371.9" r="1.36"/><circle cx="71.1" cy="371.9" r="1.36"/><circle cx="72.0" cy="371.9" r="1.36"/><circle cx="73.0" cy="371.9" r="1.36"/><circle cx="73.7" cy="365.8" r="1.36"/><circle cx="74.6" cy="365.8" r="1.36"/><circle cx="75.6" cy="365.8" r="1.36"/><circle cx="76.5" cy="365.8" r="1.36"/><circle cx="77.5" cy="365.8" r="1.36"/><circle cx="78.4" cy="365.8" r="1.36"/><circle cx="79.3" cy="365.8" r="1.36"/><circle cx="80.3" cy="365.8" r="1.36"/><circle cx="81.2" cy="365.8" r="1.36"/><circle cx="82.2" cy="365.8" r="1.36"/><circle cx="83.1" cy="365.8" r="1.36"/><circle cx="84.0" cy="365.8" r="1.36"/><circle cx="84.6" cy="359.7" r="1.36"/><circle cx="85.5" cy="359.7" r="1.36"/><circle cx="86.5" cy="359.7" r="1.36"/><circle cx="87.4" cy="359.7" r="1.36"/><circle cx="88.4" cy="359.7" r="1.36"/><circle cx="89.3" cy="359.7" r="1.36"/><circle cx="90.2" cy="359.7" r="1.36"/><circle cx="91.2" cy="359.7" r="1.36"/><circle cx="92.1" cy="359.7" r="1.36"/><circle cx="93.1" cy="353.6" r="1.36"/><circle cx="94.0" cy="353.6" r="1.36"/><circle cx="95.0" cy="353.6" r="1.36"/><circle cx="95.9" cy="353.6" r="1.36"/><circle cx="96.9" cy="353.6" r="1.36"/><circle cx="97.8" cy="353.6" r="1.36"/><circle cx="98.6" cy="347.6" r="1.36"/><circle cx="99.5" cy="347.6" r="1.36"/><circle cx="100.5" cy="347.6" r="1.36"/><circle cx="101.7" cy="341.5" r="1.36"/><circle cx="102.6" cy="341.5" r="1.36"/><circle cx="103.6" cy="341.5" r="1.36"/><circle cx="104.7" cy="335.4" r="1.36"/><circle cx="105.6" cy="335.4" r="1.36"/><circle cx="106.9" cy="329.3" r="1.36"/><circle cx="107.8" cy="329.3" r="1.36"/><circle cx="108.8" cy="329.3" r="1.36"/><circle cx="109.7" cy="329.3" r="1.36"/><circle cx="113.8" cy="292.7" r="1.36"/><circle cx="114.7" cy="292.7" r="1.36"/><circle cx="115.7" cy="292.7" r="1.36"/><circle cx="116.6" cy="292.7" r="1.36"/><circle cx="117.6" cy="292.7" r="1.36"/><circle cx="118.5" cy="292.7" r="1.36"/><circle cx="119.4" cy="292.7" r="1.36"/><circle cx="120.4" cy="292.7" r="1.36"/><circle cx="121.0" cy="286.6" r="1.36"/><circle cx="121.9" cy="286.6" r="1.36"/><circle cx="122.9" cy="286.6" r="1.36"/><circle cx="123.8" cy="286.6" r="1.36"/><circle cx="124.8" cy="286.6" r="1.36"/><circle cx="125.7" cy="286.6" r="1.36"/><circle cx="126.6" cy="286.6" r="1.36"/><circle cx="127.6" cy="286.6" r="1.36"/><circle cx="128.5" cy="286.6" r="1.36"/><circle cx="129.5" cy="286.6" r="1.36"/><circle cx="130.4" cy="286.6" r="1.36"/><circle cx="131.3" cy="286.6" r="1.36"/><circle cx="132.3" cy="286.6" r="1.36"/><circle cx="133.2" cy="286.6" r="1.36"/><circle cx="134.2" cy="286.6" r="1.36"/><circle cx="135.1" cy="286.6" r="1.36"/><circle cx="136.0" cy="286.6" r="1.36"/><circle cx="137.0" cy="286.6" r="1.36"/><circle cx="137.9" cy="286.6" r="1.36"/><circle cx="138.6" cy="280.5" r="1.36"/><circle cx="139.5" cy="280.5" r="1.36"/><circle cx="140.5" cy="280.5" r="1.36"/><circle cx="141.4" cy="280.5" r="1.36"/><circle cx="142.4" cy="280.5" r="1.36"/><circle cx="143.3" cy="280.5" r="1.36"/><circle cx="144.2" cy="280.5" r="1.36"/><circle cx="145.2" cy="280.5" r="1.36"/><circle cx="146.1" cy="280.5" r="1.36"/><circle cx="147.1" cy="280.5" r="1.36"/><circle cx="148.0" cy="280.5" r="1.36"/><circle cx="148.9" cy="280.5" r="1.36"/><circle cx="149.9" cy="280.5" r="1.36"/><circle cx="150.8" cy="280.5" r="1.36"/><circle cx="151.8" cy="280.5" r="1.36"/><circle cx="152.7" cy="280.5" r="1.36"/><circle cx="153.6" cy="280.5" r="1.36"/><circle cx="154.6" cy="280.5" r="1.36"/><circle cx="155.5" cy="280.5" r="1.36"/><circle cx="156.5" cy="280.5" r="1.36"/><circle cx="157.4" cy="280.5" r="1.36"/><circle cx="158.3" cy="280.5" r="1.36"/><circle cx="159.3" cy="280.5" r="1.36"/><circle cx="160.2" cy="280.5" r="1.36"/><circle cx="161.2" cy="280.5" r="1.36"/><circle cx="162.1" cy="280.5" r="1.36"/><circle cx="163.0" cy="280.5" r="1.36"/><circle cx="164.0" cy="280.5" r="1.36"/><circle cx="164.9" cy="280.5" r="1.36"/><circle cx="165.9" cy="280.5" r="1.36"/><circle cx="166.8" cy="280.5" r="1.36"/><circle cx="167.7" cy="280.5" r="1.36"/><circle cx="168.7" cy="280.5" r="1.36"/><circle cx="169.6" cy="280.5" r="1.36"/><circle cx="170.6" cy="280.5" r="1.36"/><circle cx="171.5" cy="280.5" r="1.36"/><circle cx="172.4" cy="280.5" r="1.36"/><circle cx="173.4" cy="280.5" r="1.36"/><circle cx="174.3" cy="280.5" r="1.36"/><circle cx="175.3" cy="280.5" r="1.36"/><circle cx="176.2" cy="280.5" r="1.36"/><circle cx="177.1" cy="280.5" r="1.36"/><circle cx="178.1" cy="280.5" r="1.36"/><circle cx="179.0" cy="280.5" r="1.36"/><circle cx="180.0" cy="280.5" r="1.36"/><circle cx="180.9" cy="280.5" r="1.36"/><circle cx="181.8" cy="280.5" r="1.36"/><circle cx="182.8" cy="280.5" r="1.36"/><circle cx="183.7" cy="280.5" r="1.36"/><circle cx="185.0" cy="274.4" r="1.36"/><circle cx="185.9" cy="274.4" r="1.36"/><circle cx="186.9" cy="274.4" r="1.36"/><circle cx="187.8" cy="274.4" r="1.36"/><circle cx="188.8" cy="274.4" r="1.36"/><circle cx="189.7" cy="274.4" r="1.36"/><circle cx="190.6" cy="274.4" r="1.36"/><circle cx="191.6" cy="274.4" r="1.36"/><circle cx="192.5" cy="274.4" r="1.36"/><circle cx="193.5" cy="274.4" r="1.36"/><circle cx="194.4" cy="274.4" r="1.36"/><circle cx="195.3" cy="274.4" r="1.36"/><circle cx="196.3" cy="274.4" r="1.36"/><circle cx="197.2" cy="274.4" r="1.36"/><circle cx="198.2" cy="274.4" r="1.36"/><circle cx="199.1" cy="274.4" r="1.36"/><circle cx="200.0" cy="274.4" r="1.36"/><circle cx="201.0" cy="274.4" r="1.36"/><circle cx="201.9" cy="274.4" r="1.36"/><circle cx="202.9" cy="274.4" r="1.36"/><circle cx="203.8" cy="274.4" r="1.36"/><circle cx="204.7" cy="274.4" r="1.36"/><circle cx="205.7" cy="274.4" r="1.36"/><circle cx="206.6" cy="274.4" r="1.36"/><circle cx="207.6" cy="274.4" r="1.36"/><circle cx="208.5" cy="274.4" r="1.36"/><circle cx="209.4" cy="274.4" r="1.36"/><circle cx="210.4" cy="274.4" r="1.36"/><circle cx="211.3" cy="274.4" r="1.36"/><circle cx="212.3" cy="274.4" r="1.36"/><circle cx="213.2" cy="274.4" r="1.36"/><circle cx="214.1" cy="274.4" r="1.36"/><circle cx="215.1" cy="274.4" r="1.36"/><circle cx="216.0" cy="274.4" r="1.36"/><circle cx="217.0" cy="274.4" r="1.36"/><circle cx="217.9" cy="274.4" r="1.36"/><circle cx="218.8" cy="274.4" r="1.36"/><circle cx="219.8" cy="274.4" r="1.36"/><circle cx="220.7" cy="274.4" r="1.36"/><circle cx="221.7" cy="274.4" r="1.36"/><circle cx="222.6" cy="274.4" r="1.36"/><circle cx="223.5" cy="274.4" r="1.36"/><circle cx="224.5" cy="274.4" r="1.36"/><circle cx="225.4" cy="274.4" r="1.36"/></g>
<g stroke-width="0.78" fill="#fff" fill-opacity="0.6" stroke-opacity="0.85"><circle cx="60.0" cy="408.5" r="1.55"/><circle cx="66.4" cy="396.3" r="1.55"/><circle cx="67.0" cy="390.2" r="1.55"/><circle cx="67.5" cy="384.1" r="1.55"/><circle cx="68.2" cy="378.0" r="1.55"/><circle cx="110.4" cy="323.2" r="1.55"/><circle cx="110.9" cy="317.1" r="1.55"/><circle cx="111.8" cy="311.0" r="1.55"/><circle cx="112.4" cy="304.9" r="1.55"/><circle cx="113.1" cy="298.8" r="1.55"/></g>
</g>
<g stroke="#f3111b" fill="none">
<path d="M39.1 426.8H56.0H56.5V417.3H80.2H81.5V407.8H97.9H98.5V398.2H106.2H107.5V388.7H111.7H112.5V379.2H127.8H128.5V369.6H144.7H146.5V360.1H154.6H156.5V350.6H163.5H164.5V341.1H189.6H190.5V331.5H196.7H198.5V322.0H205.5H206.5V312.5H221.2H221.5V303.0H225.6H226.5V293.4H226.4" stroke-width="0.55"/>
<g stroke-width="0.85" fill="#fff" fill-opacity="0.1"><circle cx="39.1" cy="426.8" r="1.36"/><circle cx="40.0" cy="426.8" r="1.36"/><circle cx="41.0" cy="426.8" r="1.36"/><circle cx="41.9" cy="426.8" r="1.36"/><circle cx="42.9" cy="426.8" r="1.36"/><circle cx="43.8" cy="426.8" r="1.36"/><circle cx="44.7" cy="426.8" r="1.36"/><circle cx="45.7" cy="426.8" r="1.36"/><circle cx="46.6" cy="426.8" r="1.36"/><circle cx="47.6" cy="426.8" r="1.36"/><circle cx="48.5" cy="426.8" r="1.36"/><circle cx="49.4" cy="426.8" r="1.36"/><circle cx="50.4" cy="426.8" r="1.36"/><circle cx="51.3" cy="426.8" r="1.36"/><circle cx="52.3" cy="426.8" r="1.36"/><circle cx="53.2" cy="426.8" r="1.36"/><circle cx="54.1" cy="426.8" r="1.36"/><circle cx="55.1" cy="426.8" r="1.36"/><circle cx="56.0" cy="426.8" r="1.36"/><circle cx="56.7" cy="417.3" r="1.36"/><circle cx="57.6" cy="417.3" r="1.36"/><circle cx="58.6" cy="417.3" r="1.36"/><circle cx="59.5" cy="417.3" r="1.36"/><circle cx="60.5" cy="417.3" r="1.36"/><circle cx="61.4" cy="417.3" r="1.36"/><circle cx="62.3" cy="417.3" r="1.36"/><circle cx="63.3" cy="417.3" r="1.36"/><circle cx="64.2" cy="417.3" r="1.36"/><circle cx="65.2" cy="417.3" r="1.36"/><circle cx="66.1" cy="417.3" r="1.36"/><circle cx="67.0" cy="417.3" r="1.36"/><circle cx="68.0" cy="417.3" r="1.36"/><circle cx="68.9" cy="417.3" r="1.36"/><circle cx="69.9" cy="417.3" r="1.36"/><circle cx="70.8" cy="417.3" r="1.36"/><circle cx="71.7" cy="417.3" r="1.36"/><circle cx="72.7" cy="417.3" r="1.36"/><circle cx="73.6" cy="417.3" r="1.36"/><circle cx="74.6" cy="417.3" r="1.36"/><circle cx="75.5" cy="417.3" r="1.36"/><circle cx="76.4" cy="417.3" r="1.36"/><circle cx="77.4" cy="417.3" r="1.36"/><circle cx="78.3" cy="417.3" r="1.36"/><circle cx="79.3" cy="417.3" r="1.36"/><circle cx="80.2" cy="417.3" r="1.36"/><circle cx="81.0" cy="407.8" r="1.36"/><circle cx="81.9" cy="407.8" r="1.36"/><circle cx="82.9" cy="407.8" r="1.36"/><circle cx="83.8" cy="407.8" r="1.36"/><circle cx="84.8" cy="407.8" r="1.36"/><circle cx="85.7" cy="407.8" r="1.36"/><circle cx="86.6" cy="407.8" r="1.36"/><circle cx="87.6" cy="407.8" r="1.36"/><circle cx="88.5" cy="407.8" r="1.36"/><circle cx="89.5" cy="407.8" r="1.36"/><circle cx="90.4" cy="407.8" r="1.36"/><circle cx="91.3" cy="407.8" r="1.36"/><circle cx="92.3" cy="407.8" r="1.36"/><circle cx="93.2" cy="407.8" r="1.36"/><circle cx="94.2" cy="407.8" r="1.36"/><circle cx="95.1" cy="407.8" r="1.36"/><circle cx="96.0" cy="407.8" r="1.36"/><circle cx="97.0" cy="407.8" r="1.36"/><circle cx="97.9" cy="407.8" r="1.36"/><circle cx="98.7" cy="398.2" r="1.36"/><circle cx="99.6" cy="398.2" r="1.36"/><circle cx="100.6" cy="398.2" r="1.36"/><circle cx="101.5" cy="398.2" r="1.36"/><circle cx="102.5" cy="398.2" r="1.36"/><circle cx="103.4" cy="398.2" r="1.36"/><circle cx="104.3" cy="398.2" r="1.36"/><circle cx="105.3" cy="398.2" r="1.36"/><circle cx="106.2" cy="398.2" r="1.36"/><circle cx="107.0" cy="388.7" r="1.36"/><circle cx="107.9" cy="388.7" r="1.36"/><circle cx="108.9" cy="388.7" r="1.36"/><circle cx="109.8" cy="388.7" r="1.36"/><circle cx="110.8" cy="388.7" r="1.36"/><circle cx="111.7" cy="388.7" r="1.36"/><circle cx="112.8" cy="379.2" r="1.36"/><circle cx="113.7" cy="379.2" r="1.36"/><circle cx="114.7" cy="379.2" r="1.36"/><circle cx="115.6" cy="379.2" r="1.36"/><circle cx="116.6" cy="379.2" r="1.36"/><circle cx="117.5" cy="379.2" r="1.36"/><circle cx="118.4" cy="379.2" r="1.36"/><circle cx="119.4" cy="379.2" r="1.36"/><circle cx="120.3" cy="379.2" r="1.36"/><circle cx="121.3" cy="379.2" r="1.36"/><circle cx="122.2" cy="379.2" r="1.36"/><circle cx="123.1" cy="379.2" r="1.36"/><circle cx="124.1" cy="379.2" r="1.36"/><circle cx="125.0" cy="379.2" r="1.36"/><circle cx="126.0" cy="379.2" r="1.36"/><circle cx="126.9" cy="379.2" r="1.36"/><circle cx="127.8" cy="379.2" r="1.36"/><circle cx="128.7" cy="369.6" r="1.36"/><circle cx="129.6" cy="369.6" r="1.36"/><circle cx="130.6" cy="369.6" r="1.36"/><circle cx="131.5" cy="369.6" r="1.36"/><circle cx="132.5" cy="369.6" r="1.36"/><circle cx="133.4" cy="369.6" r="1.36"/><circle cx="134.3" cy="369.6" r="1.36"/><circle cx="135.3" cy="369.6" r="1.36"/><circle cx="136.2" cy="369.6" r="1.36"/><circle cx="137.2" cy="369.6" r="1.36"/><circle cx="138.1" cy="369.6" r="1.36"/><circle cx="139.0" cy="369.6" r="1.36"/><circle cx="140.0" cy="369.6" r="1.36"/><circle cx="140.9" cy="369.6" r="1.36"/><circle cx="141.9" cy="369.6" r="1.36"/><circle cx="142.8" cy="369.6" r="1.36"/><circle cx="143.7" cy="369.6" r="1.36"/><circle cx="144.7" cy="369.6" r="1.36"/><circle cx="146.1" cy="360.1" r="1.36"/><circle cx="147.0" cy="360.1" r="1.36"/><circle cx="148.0" cy="360.1" r="1.36"/><circle cx="148.9" cy="360.1" r="1.36"/><circle cx="149.9" cy="360.1" r="1.36"/><circle cx="150.8" cy="360.1" r="1.36"/><circle cx="151.7" cy="360.1" r="1.36"/><circle cx="152.7" cy="360.1" r="1.36"/><circle cx="153.6" cy="360.1" r="1.36"/><circle cx="154.6" cy="360.1" r="1.36"/><circle cx="156.0" cy="350.6" r="1.36"/><circle cx="156.9" cy="350.6" r="1.36"/><circle cx="157.9" cy="350.6" r="1.36"/><circle cx="158.8" cy="350.6" r="1.36"/><circle cx="159.8" cy="350.6" r="1.36"/><circle cx="160.7" cy="350.6" r="1.36"/><circle cx="161.6" cy="350.6" r="1.36"/><circle cx="162.6" cy="350.6" r="1.36"/><circle cx="163.5" cy="350.6" r="1.36"/><circle cx="164.2" cy="341.1" r="1.36"/><circle cx="165.1" cy="341.1" r="1.36"/><circle cx="166.1" cy="341.1" r="1.36"/><circle cx="167.0" cy="341.1" r="1.36"/><circle cx="168.0" cy="341.1" r="1.36"/><circle cx="168.9" cy="341.1" r="1.36"/><circle cx="169.8" cy="341.1" r="1.36"/><circle cx="170.8" cy="341.1" r="1.36"/><circle cx="171.7" cy="341.1" r="1.36"/><circle cx="172.7" cy="341.1" r="1.36"/><circle cx="173.6" cy="341.1" r="1.36"/><circle cx="174.5" cy="341.1" r="1.36"/><circle cx="175.5" cy="341.1" r="1.36"/><circle cx="176.4" cy="341.1" r="1.36"/><circle cx="177.4" cy="341.1" r="1.36"/><circle cx="178.3" cy="341.1" r="1.36"/><circle cx="179.2" cy="341.1" r="1.36"/><circle cx="180.2" cy="341.1" r="1.36"/><circle cx="181.1" cy="341.1" r="1.36"/><circle cx="182.1" cy="341.1" r="1.36"/><circle cx="183.0" cy="341.1" r="1.36"/><circle cx="183.9" cy="341.1" r="1.36"/><circle cx="184.9" cy="341.1" r="1.36"/><circle cx="185.8" cy="341.1" r="1.36"/><circle cx="186.8" cy="341.1" r="1.36"/><circle cx="187.7" cy="341.1" r="1.36"/><circle cx="188.6" cy="341.1" r="1.36"/><circle cx="189.6" cy="341.1" r="1.36"/><circle cx="190.1" cy="331.5" r="1.36"/><circle cx="191.0" cy="331.5" r="1.36"/><circle cx="192.0" cy="331.5" r="1.36"/><circle cx="192.9" cy="331.5" r="1.36"/><circle cx="193.9" cy="331.5" r="1.36"/><circle cx="194.8" cy="331.5" r="1.36"/><circle cx="195.7" cy="331.5" r="1.36"/><circle cx="196.7" cy="331.5" r="1.36"/><circle cx="198.0" cy="322.0" r="1.36"/><circle cx="198.9" cy="322.0" r="1.36"/><circle cx="199.9" cy="322.0" r="1.36"/><circle cx="200.8" cy="322.0" r="1.36"/><circle cx="201.8" cy="322.0" r="1.36"/><circle cx="202.7" cy="322.0" r="1.36"/><circle cx="203.6" cy="322.0" r="1.36"/><circle cx="204.6" cy="322.0" r="1.36"/><circle cx="205.5" cy="322.0" r="1.36"/><circle cx="206.2" cy="312.5" r="1.36"/><circle cx="207.1" cy="312.5" r="1.36"/><circle cx="208.1" cy="312.5" r="1.36"/><circle cx="209.0" cy="312.5" r="1.36"/><circle cx="210.0" cy="312.5" r="1.36"/><circle cx="210.9" cy="312.5" r="1.36"/><circle cx="211.8" cy="312.5" r="1.36"/><circle cx="212.8" cy="312.5" r="1.36"/><circle cx="213.7" cy="312.5" r="1.36"/><circle cx="214.7" cy="312.5" r="1.36"/><circle cx="215.6" cy="312.5" r="1.36"/><circle cx="216.5" cy="312.5" r="1.36"/><circle cx="217.5" cy="312.5" r="1.36"/><circle cx="218.4" cy="312.5" r="1.36"/><circle cx="219.4" cy="312.5" r="1.36"/><circle cx="220.3" cy="312.5" r="1.36"/><circle cx="221.2" cy="312.5" r="1.36"/><circle cx="221.8" cy="303.0" r="1.36"/><circle cx="222.7" cy="303.0" r="1.36"/><circle cx="223.7" cy="303.0" r="1.36"/><circle cx="224.6" cy="303.0" r="1.36"/><circle cx="225.6" cy="303.0" r="1.36"/></g>
<g stroke-width="0.78" fill="#fff" fill-opacity="0.6" stroke-opacity="0.85"><circle cx="226.4" cy="293.4" r="1.55"/></g>
</g>
<text x="4.4" y="250.0" font-size="15.5" text-anchor="start" font-weight="bold" fill="#000" stroke="#000">c</text>
<text x="54.4" y="267.8" font-size="10.55" text-anchor="start" font-weight="bold" fill="#5fa030" stroke="#5fa030">SYTOX-green</text>
<text x="155" y="384.8" font-size="10.4" text-anchor="start" font-weight="bold" fill="#f3111b" stroke="#f3111b">YOYO-1</text>
<text x="230" y="277" font-size="9.4" fill="#15753a" stroke="#15753a">19 W/cm<tspan dy="-5.2" font-size="9.4">2</tspan></text>
<text x="230" y="299.2" font-size="9.4" fill="#f3111b" stroke="#f3111b">1 W/cm<tspan dy="-5.2" font-size="9.4">2</tspan></text>
<text x="230" y="319.7" font-size="9.4" fill="#15753a" stroke="#15753a">5 W/cm<tspan dy="-5.2" font-size="9.4">2</tspan></text>
<text x="230.6" y="416.2" font-size="9.4" fill="#15753a" stroke="#15753a">1 W/cm<tspan dy="-5.2" font-size="9.4">2</tspan></text>
<path d="M284 368.4V309" stroke="#000" stroke-width="2" fill="none"/>
<path d="M284 306L289 315.2L284 312.6L279 315.2Z" fill="#000"/>
<text x="301.2" y="365.2" font-size="10.4" text-anchor="start" fill="#231f20" stroke="#231f20" transform="rotate(-90 301.2 365.2)">Laser power</text>
<text x="153.8" y="458.3" font-size="12.5" text-anchor="middle" fill="#231f20" stroke="#231f20">Time, s</text>
<text x="10.0" y="334.3" font-size="12.7" text-anchor="middle" fill="#231f20" stroke="#231f20" transform="rotate(-90 10.0 334.3)">Cumulative probability</text>
</g>
<g id="panel-d">
<line x1="368.80" y1="426.40" x2="603.60" y2="426.40" stroke="#888888" stroke-width="1.4"/>
<line x1="369.50" y1="426.40" x2="369.50" y2="246.00" stroke="#888888" stroke-width="1.4"/>
<line x1="369.50" y1="426.40" x2="369.50" y2="424.60" stroke="#888888" stroke-width="0.9"/>
<text x="369.5" y="438.8" font-size="10.2" text-anchor="middle" fill="#231f20" stroke="#231f20">0</text>
<line x1="428.02" y1="426.40" x2="428.02" y2="424.60" stroke="#888888" stroke-width="0.9"/>
<text x="428.0" y="438.8" font-size="10.2" text-anchor="middle" fill="#231f20" stroke="#231f20">5</text>
<line x1="486.55" y1="426.40" x2="486.55" y2="424.60" stroke="#888888" stroke-width="0.9"/>
<text x="486.6" y="438.8" font-size="10.2" text-anchor="middle" fill="#231f20" stroke="#231f20">10</text>
<line x1="545.08" y1="426.40" x2="545.08" y2="424.60" stroke="#888888" stroke-width="0.9"/>
<text x="545.1" y="438.8" font-size="10.2" text-anchor="middle" fill="#231f20" stroke="#231f20">15</text>
<line x1="603.60" y1="426.40" x2="603.60" y2="424.60" stroke="#888888" stroke-width="0.9"/>
<text x="603.6" y="438.8" font-size="10.2" text-anchor="middle" fill="#231f20" stroke="#231f20">20</text>
<line x1="369.50" y1="426.40" x2="371.30" y2="426.40" stroke="#888888" stroke-width="0.9"/>
<text x="364.8" y="430.6" font-size="10.2" text-anchor="end" fill="#231f20" stroke="#231f20">0</text>
<line x1="369.50" y1="390.32" x2="371.30" y2="390.32" stroke="#888888" stroke-width="0.9"/>
<text x="364.8" y="394.5" font-size="10.2" text-anchor="end" fill="#231f20" stroke="#231f20">0.2</text>
<line x1="369.50" y1="354.24" x2="371.30" y2="354.24" stroke="#888888" stroke-width="0.9"/>
<text x="364.8" y="358.4" font-size="10.2" text-anchor="end" fill="#231f20" stroke="#231f20">0.4</text>
<line x1="369.50" y1="318.16" x2="371.30" y2="318.16" stroke="#888888" stroke-width="0.9"/>
<text x="364.8" y="322.4" font-size="10.2" text-anchor="end" fill="#231f20" stroke="#231f20">0.6</text>
<line x1="369.50" y1="282.08" x2="371.30" y2="282.08" stroke="#888888" stroke-width="0.9"/>
<text x="364.8" y="286.3" font-size="10.2" text-anchor="end" fill="#231f20" stroke="#231f20">0.8</text>
<line x1="369.50" y1="246.00" x2="371.30" y2="246.00" stroke="#888888" stroke-width="0.9"/>
<text x="364.8" y="250.2" font-size="10.2" text-anchor="end" fill="#231f20" stroke="#231f20">1</text>
<path d="M381.2 416.8L428.0 319.6L591.9 281.5" stroke="#0ca453" stroke-width="1.2" fill="none"/>
<circle cx="381.2" cy="416.8" r="3.15" fill="#0ca453"/>
<line x1="428.02" y1="330.25" x2="428.02" y2="308.96" stroke="#0ca453" stroke-width="1.2"/>
<line x1="425.72" y1="330.25" x2="430.32" y2="330.25" stroke="#0ca453" stroke-width="1.0"/>
<line x1="425.72" y1="308.96" x2="430.32" y2="308.96" stroke="#0ca453" stroke-width="1.0"/>
<circle cx="428.0" cy="319.6" r="3.15" fill="#0ca453"/>
<line x1="591.89" y1="295.97" x2="591.89" y2="266.93" stroke="#0ca453" stroke-width="1.2"/>
<line x1="589.60" y1="295.97" x2="594.19" y2="295.97" stroke="#0ca453" stroke-width="1.0"/>
<line x1="589.60" y1="266.93" x2="594.19" y2="266.93" stroke="#0ca453" stroke-width="1.0"/>
<circle cx="591.9" cy="281.5" r="3.15" fill="#0ca453"/>
<path d="M381.2 363.1" stroke="#f3111b" stroke-width="1.2" fill="none"/>
<line x1="381.20" y1="369.21" x2="381.20" y2="357.13" stroke="#f3111b" stroke-width="1.2"/>
<rect x="378.8" y="360.3" width="4.9" height="5.63" fill="#f3111b"/>
<text x="331.2" y="250.0" font-size="15.5" text-anchor="start" font-weight="bold" fill="#000" stroke="#000">d</text>
<text x="485.2" y="459" font-size="12.5" text-anchor="middle" fill="#231f20" stroke="#231f20">Laser power, W/cm<tspan dy="-5.6" font-size="10.5">2</tspan></text>
<text x="337" y="335.4" font-size="12.5" text-anchor="middle" fill="#231f20" stroke="#231f20" transform="rotate(-90 337 335.4)">n<tspan font-size="10" dy="5">b</tspan><tspan dy="-5">, 1/s</tspan></text>
</g>
</svg>
</body>
</html>
